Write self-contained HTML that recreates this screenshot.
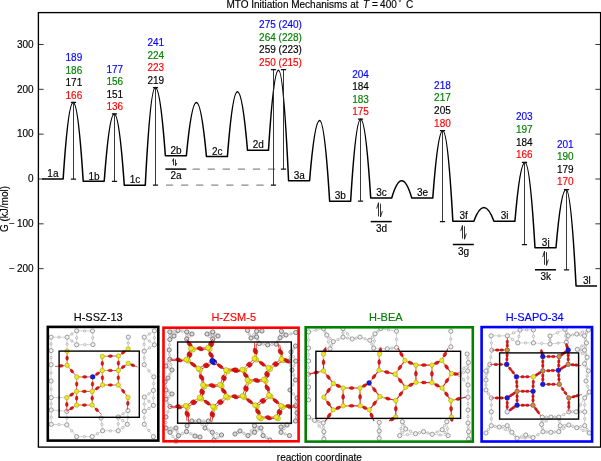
<!DOCTYPE html>
<html><head><meta charset="utf-8"><style>
html,body{margin:0;padding:0;background:#fff;}
svg{display:block;font-family:"Liberation Sans", Arial, sans-serif;font-size:10px;}
text{stroke-width:0.15px;}
</style></head><body>
<svg width="601" height="461" viewBox="0 0 601 461">
<rect width="601" height="461" fill="#fff"/>
<g stroke="#000">
<path d="M42.15,179.00 L63.15,179.00 Q68.17,102.40 73.19,102.40 Q78.20,102.40 83.22,181.30 L83.22,181.30 L104.22,181.30 Q109.24,113.90 114.25,113.90 Q119.27,113.90 124.29,185.20 L124.29,185.20 L145.29,185.20 Q150.31,87.60 155.32,87.60 Q160.34,87.60 165.36,155.80 L165.36,155.80 L186.36,155.80 Q191.38,102.50 196.40,102.50 Q201.41,102.50 206.43,156.40 L206.43,156.40 L227.43,156.40 Q232.45,91.80 237.47,91.80 Q242.48,91.80 247.50,150.20 L247.50,150.20 L268.50,150.20 Q273.52,70.30 278.53,70.30 Q283.55,70.30 288.57,180.70 L288.57,180.70 L309.57,180.70 Q314.59,120.60 319.61,120.60 Q324.62,120.60 329.64,201.20 L329.64,201.20 L350.64,201.20 Q355.66,119.20 360.67,119.20 Q365.69,119.20 370.71,198.00 L370.71,198.00 L391.71,198.00 Q396.73,180.70 401.75,180.70 Q406.76,180.70 411.78,198.10 L411.78,198.10 L432.78,198.10 Q437.80,130.70 442.81,130.70 Q447.83,130.70 452.85,221.20 L452.85,221.20 L473.85,221.20 Q478.87,207.50 483.88,207.50 Q488.90,207.50 493.92,221.20 L493.92,221.20 L514.92,221.20 Q519.94,162.40 524.95,162.40 Q529.97,162.40 534.99,247.70 L534.99,247.70 L555.99,247.70 Q561.01,189.60 566.02,189.60 Q571.04,189.60 576.06,285.90 L576.06,285.90 L597.06,285.90" fill="none" stroke="#000" stroke-width="1.5" stroke-linejoin="round"/>
<line x1="165.36" y1="169.1" x2="186.36" y2="169.1" stroke="#000" stroke-width="1.5"/>
<text x="176.11" y="179.10" text-anchor="middle">2a</text>
<line x1="370.71" y1="221.6" x2="391.71" y2="221.6" stroke="#000" stroke-width="1.5"/>
<text x="381.46" y="231.60" text-anchor="middle">3d</text>
<line x1="452.85" y1="244.5" x2="473.85" y2="244.5" stroke="#000" stroke-width="1.5"/>
<text x="463.60" y="254.50" text-anchor="middle">3g</text>
<line x1="534.99" y1="269.8" x2="555.99" y2="269.8" stroke="#000" stroke-width="1.5"/>
<text x="545.74" y="279.80" text-anchor="middle">3k</text>
<path d="M166.00,185.1H173.20M181.07,185.1H188.27M196.14,185.1H203.34M211.21,185.1H218.41M226.28,185.1H233.48M241.35,185.1H248.55M256.42,185.1H263.62M271.49,185.1H272.00M192.60,169.1H199.80M207.67,169.1H214.87M222.74,169.1H229.94M237.81,169.1H245.01M252.88,169.1H260.08M267.95,169.1H275.15" stroke="#8a8a8a" stroke-width="1.2" fill="none"/>
<text x="52.90" y="177.20" text-anchor="middle">1a</text>
<text x="93.97" y="179.50" text-anchor="middle">1b</text>
<text x="135.04" y="183.40" text-anchor="middle">1c</text>
<text x="176.11" y="154.00" text-anchor="middle">2b</text>
<text x="217.18" y="154.60" text-anchor="middle">2c</text>
<text x="258.25" y="148.40" text-anchor="middle">2d</text>
<text x="299.32" y="178.90" text-anchor="middle">3a</text>
<text x="340.39" y="199.40" text-anchor="middle">3b</text>
<text x="381.46" y="196.20" text-anchor="middle">3c</text>
<text x="422.53" y="196.30" text-anchor="middle">3e</text>
<text x="463.60" y="219.40" text-anchor="middle">3f</text>
<text x="504.67" y="219.40" text-anchor="middle">3i</text>
<text x="545.74" y="245.90" text-anchor="middle">3j</text>
<text x="586.81" y="284.10" text-anchor="middle">3l</text>
<path d="M73.50,102.40V179.00M114.50,113.90V181.30M155.50,87.60V185.20M273.50,69.60V185.10M283.50,69.60V169.10M360.50,119.20V201.20M442.50,130.70V221.60M524.50,162.40V244.50M566.50,189.60V269.80" stroke="#222" stroke-width="0.9" fill="none"/>
<path d="M70.90,102.40H76.10M70.90,179.00H76.10M111.90,113.90H117.10M111.90,181.30H117.10M152.90,87.60H158.10M152.90,185.20H158.10M270.90,69.60H276.10M270.90,185.10H276.10M280.90,69.60H286.10M280.90,169.10H286.10M357.90,119.20H363.10M357.90,201.20H363.10M439.90,130.70H445.10M439.90,221.60H445.10M521.90,162.40H527.10M521.90,244.50H527.10M563.90,189.60H569.10M563.90,269.80H569.10" stroke="#111" stroke-width="1.25" fill="none"/>
<path d="M173.50,165.30V158.60L172.40,161.48M175.50,159.50V165.90L176.60,163.02M378.50,216.40V202.70L376.70,208.59M380.50,203.60V217.00L382.30,211.11M462.50,238.60V225.40L460.70,231.08M464.50,226.30V239.20L466.30,233.52M544.50,264.80V251.20L542.70,257.05M546.50,252.10V265.40L548.30,259.55" stroke="#111" stroke-width="0.85" fill="none"/>
<text x="73.89" y="61.25" text-anchor="middle" fill="#0000ff" stroke="#0000ff">189</text>
<text x="73.89" y="73.80" text-anchor="middle" fill="#008000" stroke="#008000">186</text>
<text x="73.89" y="86.35" text-anchor="middle" fill="#000000" stroke="#000000">171</text>
<text x="73.89" y="98.90" text-anchor="middle" fill="#ff0000" stroke="#ff0000">166</text>
<text x="114.83" y="72.68" text-anchor="middle" fill="#0000ff" stroke="#0000ff">177</text>
<text x="114.83" y="85.23" text-anchor="middle" fill="#008000" stroke="#008000">156</text>
<text x="114.83" y="97.78" text-anchor="middle" fill="#000000" stroke="#000000">151</text>
<text x="114.83" y="110.33" text-anchor="middle" fill="#ff0000" stroke="#ff0000">136</text>
<text x="155.78" y="46.31" text-anchor="middle" fill="#0000ff" stroke="#0000ff">241</text>
<text x="155.78" y="58.86" text-anchor="middle" fill="#008000" stroke="#008000">224</text>
<text x="155.78" y="71.41" text-anchor="middle" fill="#ff0000" stroke="#ff0000">223</text>
<text x="155.78" y="83.96" text-anchor="middle" fill="#000000" stroke="#000000">219</text>
<text x="280.50" y="28.35" text-anchor="middle" fill="#0000ff" stroke="#0000ff">275 (240)</text>
<text x="280.50" y="40.90" text-anchor="middle" fill="#008000" stroke="#008000">264 (228)</text>
<text x="280.50" y="53.45" text-anchor="middle" fill="#000000" stroke="#000000">259 (223)</text>
<text x="280.50" y="66.00" text-anchor="middle" fill="#ff0000" stroke="#ff0000">250 (215)</text>
<text x="360.54" y="77.56" text-anchor="middle" fill="#0000ff" stroke="#0000ff">204</text>
<text x="360.54" y="90.11" text-anchor="middle" fill="#000000" stroke="#000000">184</text>
<text x="360.54" y="102.66" text-anchor="middle" fill="#008000" stroke="#008000">183</text>
<text x="360.54" y="115.21" text-anchor="middle" fill="#ff0000" stroke="#ff0000">175</text>
<text x="442.44" y="88.92" text-anchor="middle" fill="#0000ff" stroke="#0000ff">218</text>
<text x="442.44" y="101.47" text-anchor="middle" fill="#008000" stroke="#008000">217</text>
<text x="442.44" y="114.02" text-anchor="middle" fill="#000000" stroke="#000000">205</text>
<text x="442.44" y="126.57" text-anchor="middle" fill="#ff0000" stroke="#ff0000">180</text>
<text x="524.33" y="120.48" text-anchor="middle" fill="#0000ff" stroke="#0000ff">203</text>
<text x="524.33" y="133.03" text-anchor="middle" fill="#008000" stroke="#008000">197</text>
<text x="524.33" y="145.58" text-anchor="middle" fill="#000000" stroke="#000000">184</text>
<text x="524.33" y="158.13" text-anchor="middle" fill="#ff0000" stroke="#ff0000">166</text>
<text x="565.28" y="147.61" text-anchor="middle" fill="#0000ff" stroke="#0000ff">201</text>
<text x="565.28" y="160.16" text-anchor="middle" fill="#008000" stroke="#008000">190</text>
<text x="565.28" y="172.71" text-anchor="middle" fill="#000000" stroke="#000000">179</text>
<text x="565.28" y="185.26" text-anchor="middle" fill="#ff0000" stroke="#ff0000">170</text>
<path d="M38.40,44.51h5.2M600.60,44.51h-5.2M38.40,89.34h5.2M600.60,89.34h-5.2M38.40,134.17h5.2M600.60,134.17h-5.2M38.40,179.00h5.2M600.60,179.00h-5.2M38.40,223.83h5.2M600.60,223.83h-5.2M38.40,268.66h5.2M600.60,268.66h-5.2" stroke="#111" stroke-width="0.85" fill="none"/>
<text x="33.6" y="47.81" text-anchor="end">300</text>
<text x="33.6" y="92.64" text-anchor="end">200</text>
<text x="33.6" y="137.47" text-anchor="end">100</text>
<text x="33.6" y="182.30" text-anchor="end">0</text>
<text x="33.6" y="227.13" text-anchor="end">− 100</text>
<text x="33.6" y="271.96" text-anchor="end">− 200</text>
<rect x="38.4" y="12.6" width="562.20" height="434.50" fill="none" stroke="#000" stroke-width="1.35"/>
<text x="226.4" y="7.5">MTO Initiation Mechanisms at <tspan x="362.9" font-style="italic">T</tspan><tspan x="372.0">=</tspan><tspan x="380.1">400</tspan><tspan x="398.4" dy="-2.6" font-size="7">°</tspan><tspan x="406.0" dy="2.6">C</tspan></text>
<text x="319.4" y="461.2" text-anchor="middle">reaction coordinate</text>
<text transform="translate(7.9,209) rotate(-90)" text-anchor="middle">G (kJ/mol)</text>
<g>
<path d="M153.4,405.4L144.3,411.3M153.4,390.5L144.3,397.0M127.3,424.3L118.2,430.8M67.1,337.2L76.7,330.8M127.3,424.3L118.2,417.0M128.0,410.6L118.2,417.0M102.6,430.8L92.2,436.6M144.2,337.2L154.4,330.8M154.4,344.8L144.2,351.2M67.1,337.2L76.7,344.8M144.3,397.0L153.4,405.4M51.2,410.0L51.2,397.6M144.2,337.2L154.4,344.8M102.6,430.8L101.0,418.0M144.3,411.3L144.3,424.3M51.1,337.2L51.1,350.6M144.2,351.2L144.2,364.7M66.8,424.9L66.8,411.3M92.5,331.0L92.9,344.6M153.8,376.9L153.4,390.5M128.0,410.6L127.3,424.3M118.2,430.8L118.2,417.0M76.7,330.8L76.7,344.8M144.2,337.2L144.2,351.2M154.4,330.8L154.4,344.8M51.1,350.6L51.1,364.7M144.3,397.0L144.3,411.3M51.2,424.3L51.2,410.0M153.4,390.5L153.4,405.4M76.6,436.6L66.8,424.9M144.3,424.3L153.4,436.7M144.2,364.7L153.8,376.9M118.2,430.8L102.6,430.8M92.2,436.6L76.6,436.6M66.8,424.9L51.2,424.3M51.2,410.0L66.8,411.3M76.7,330.8L92.5,331.0M51.1,337.2L67.1,337.2M76.7,344.8L92.9,344.6M51.1,364.7L51.1,381.0M51.1,381.0L51.2,397.6M67.1,351.2L67.1,337.2M128.2,348.9L128.3,337.1M66.8,397.6L51.2,397.6" stroke="#bdbdbd" stroke-width="0.65" fill="none"/>
<circle cx="148.9" cy="408.4" r="1.2" fill="#f4f4f4" stroke="#a0a0a0" stroke-width="0.6"/>
<circle cx="148.9" cy="393.8" r="1.2" fill="#f4f4f4" stroke="#a0a0a0" stroke-width="0.6"/>
<circle cx="122.8" cy="427.6" r="1.2" fill="#f4f4f4" stroke="#a0a0a0" stroke-width="0.6"/>
<circle cx="71.9" cy="334.0" r="1.2" fill="#f4f4f4" stroke="#a0a0a0" stroke-width="0.6"/>
<circle cx="122.8" cy="420.6" r="1.2" fill="#f4f4f4" stroke="#a0a0a0" stroke-width="0.6"/>
<circle cx="123.1" cy="413.8" r="1.2" fill="#f4f4f4" stroke="#a0a0a0" stroke-width="0.6"/>
<circle cx="97.4" cy="433.7" r="1.2" fill="#f4f4f4" stroke="#a0a0a0" stroke-width="0.6"/>
<circle cx="149.3" cy="334.0" r="1.2" fill="#f4f4f4" stroke="#a0a0a0" stroke-width="0.6"/>
<circle cx="149.3" cy="348.0" r="1.2" fill="#f4f4f4" stroke="#a0a0a0" stroke-width="0.6"/>
<circle cx="71.9" cy="341.0" r="1.2" fill="#f4f4f4" stroke="#a0a0a0" stroke-width="0.6"/>
<circle cx="148.9" cy="401.2" r="1.2" fill="#f4f4f4" stroke="#a0a0a0" stroke-width="0.6"/>
<circle cx="51.2" cy="403.8" r="1.2" fill="#f4f4f4" stroke="#a0a0a0" stroke-width="0.6"/>
<circle cx="149.3" cy="341.0" r="1.2" fill="#f4f4f4" stroke="#a0a0a0" stroke-width="0.6"/>
<circle cx="101.8" cy="424.4" r="1.2" fill="#f4f4f4" stroke="#a0a0a0" stroke-width="0.6"/>
<circle cx="144.3" cy="417.8" r="1.2" fill="#f4f4f4" stroke="#a0a0a0" stroke-width="0.6"/>
<circle cx="51.1" cy="343.9" r="1.2" fill="#f4f4f4" stroke="#a0a0a0" stroke-width="0.6"/>
<circle cx="144.2" cy="357.9" r="1.2" fill="#f4f4f4" stroke="#a0a0a0" stroke-width="0.6"/>
<circle cx="66.8" cy="418.1" r="1.2" fill="#f4f4f4" stroke="#a0a0a0" stroke-width="0.6"/>
<circle cx="92.7" cy="337.8" r="1.2" fill="#f4f4f4" stroke="#a0a0a0" stroke-width="0.6"/>
<circle cx="153.6" cy="383.7" r="1.2" fill="#f4f4f4" stroke="#a0a0a0" stroke-width="0.6"/>
<circle cx="127.7" cy="417.5" r="1.2" fill="#f4f4f4" stroke="#a0a0a0" stroke-width="0.6"/>
<circle cx="118.2" cy="423.9" r="1.2" fill="#f4f4f4" stroke="#a0a0a0" stroke-width="0.6"/>
<circle cx="76.7" cy="337.8" r="1.2" fill="#f4f4f4" stroke="#a0a0a0" stroke-width="0.6"/>
<circle cx="144.2" cy="344.2" r="1.2" fill="#f4f4f4" stroke="#a0a0a0" stroke-width="0.6"/>
<circle cx="154.4" cy="337.8" r="1.2" fill="#f4f4f4" stroke="#a0a0a0" stroke-width="0.6"/>
<circle cx="51.1" cy="357.6" r="1.2" fill="#f4f4f4" stroke="#a0a0a0" stroke-width="0.6"/>
<circle cx="144.3" cy="404.1" r="1.2" fill="#f4f4f4" stroke="#a0a0a0" stroke-width="0.6"/>
<circle cx="51.2" cy="417.1" r="1.2" fill="#f4f4f4" stroke="#a0a0a0" stroke-width="0.6"/>
<circle cx="153.4" cy="397.9" r="1.2" fill="#f4f4f4" stroke="#a0a0a0" stroke-width="0.6"/>
<circle cx="71.7" cy="430.8" r="1.2" fill="#f4f4f4" stroke="#a0a0a0" stroke-width="0.6"/>
<circle cx="148.9" cy="430.5" r="1.2" fill="#f4f4f4" stroke="#a0a0a0" stroke-width="0.6"/>
<circle cx="149.0" cy="370.8" r="1.2" fill="#f4f4f4" stroke="#a0a0a0" stroke-width="0.6"/>
<circle cx="110.4" cy="430.8" r="1.2" fill="#f4f4f4" stroke="#a0a0a0" stroke-width="0.6"/>
<circle cx="84.4" cy="436.6" r="1.2" fill="#f4f4f4" stroke="#a0a0a0" stroke-width="0.6"/>
<circle cx="59.0" cy="424.6" r="1.2" fill="#f4f4f4" stroke="#a0a0a0" stroke-width="0.6"/>
<circle cx="59.0" cy="410.6" r="1.2" fill="#f4f4f4" stroke="#a0a0a0" stroke-width="0.6"/>
<circle cx="84.6" cy="330.9" r="1.2" fill="#f4f4f4" stroke="#a0a0a0" stroke-width="0.6"/>
<circle cx="59.1" cy="337.2" r="1.2" fill="#f4f4f4" stroke="#a0a0a0" stroke-width="0.6"/>
<circle cx="84.8" cy="344.7" r="1.2" fill="#f4f4f4" stroke="#a0a0a0" stroke-width="0.6"/>
<circle cx="51.1" cy="372.9" r="1.2" fill="#f4f4f4" stroke="#a0a0a0" stroke-width="0.6"/>
<circle cx="51.2" cy="389.3" r="1.2" fill="#f4f4f4" stroke="#a0a0a0" stroke-width="0.6"/>
<circle cx="67.1" cy="344.2" r="1.2" fill="#f4f4f4" stroke="#a0a0a0" stroke-width="0.6"/>
<circle cx="128.2" cy="343.0" r="1.2" fill="#f4f4f4" stroke="#a0a0a0" stroke-width="0.6"/>
<circle cx="59.0" cy="397.6" r="1.2" fill="#f4f4f4" stroke="#a0a0a0" stroke-width="0.6"/>
<circle cx="51.1" cy="337.2" r="2.1" fill="#f2f2f2" stroke="#858585" stroke-width="0.8"/>
<circle cx="67.1" cy="337.2" r="2.1" fill="#f2f2f2" stroke="#858585" stroke-width="0.8"/>
<circle cx="76.7" cy="330.8" r="2.1" fill="#f2f2f2" stroke="#858585" stroke-width="0.8"/>
<circle cx="92.5" cy="331.0" r="2.1" fill="#f2f2f2" stroke="#858585" stroke-width="0.8"/>
<circle cx="76.7" cy="344.8" r="2.1" fill="#f2f2f2" stroke="#858585" stroke-width="0.8"/>
<circle cx="92.9" cy="344.6" r="2.1" fill="#f2f2f2" stroke="#858585" stroke-width="0.8"/>
<circle cx="51.1" cy="350.6" r="2.1" fill="#f2f2f2" stroke="#858585" stroke-width="0.8"/>
<circle cx="51.1" cy="364.7" r="2.1" fill="#f2f2f2" stroke="#858585" stroke-width="0.8"/>
<circle cx="51.1" cy="381.0" r="2.1" fill="#f2f2f2" stroke="#858585" stroke-width="0.8"/>
<circle cx="128.3" cy="337.1" r="2.1" fill="#f2f2f2" stroke="#858585" stroke-width="0.8"/>
<circle cx="144.2" cy="337.2" r="2.1" fill="#f2f2f2" stroke="#858585" stroke-width="0.8"/>
<circle cx="154.4" cy="330.8" r="2.1" fill="#f2f2f2" stroke="#858585" stroke-width="0.8"/>
<circle cx="154.4" cy="344.8" r="2.1" fill="#f2f2f2" stroke="#858585" stroke-width="0.8"/>
<circle cx="144.2" cy="351.2" r="2.1" fill="#f2f2f2" stroke="#858585" stroke-width="0.8"/>
<circle cx="144.2" cy="364.7" r="2.1" fill="#f2f2f2" stroke="#858585" stroke-width="0.8"/>
<circle cx="153.8" cy="376.9" r="2.1" fill="#f2f2f2" stroke="#858585" stroke-width="0.8"/>
<circle cx="153.4" cy="390.5" r="2.1" fill="#f2f2f2" stroke="#858585" stroke-width="0.8"/>
<circle cx="144.3" cy="397.0" r="2.1" fill="#f2f2f2" stroke="#858585" stroke-width="0.8"/>
<circle cx="153.4" cy="405.4" r="2.1" fill="#f2f2f2" stroke="#858585" stroke-width="0.8"/>
<circle cx="144.3" cy="411.3" r="2.1" fill="#f2f2f2" stroke="#858585" stroke-width="0.8"/>
<circle cx="128.0" cy="410.6" r="2.1" fill="#f2f2f2" stroke="#858585" stroke-width="0.8"/>
<circle cx="127.3" cy="424.3" r="2.1" fill="#f2f2f2" stroke="#858585" stroke-width="0.8"/>
<circle cx="144.3" cy="424.3" r="2.1" fill="#f2f2f2" stroke="#858585" stroke-width="0.8"/>
<circle cx="153.4" cy="436.7" r="2.1" fill="#f2f2f2" stroke="#858585" stroke-width="0.8"/>
<circle cx="118.2" cy="430.8" r="2.1" fill="#f2f2f2" stroke="#858585" stroke-width="0.8"/>
<circle cx="102.6" cy="430.8" r="2.1" fill="#f2f2f2" stroke="#858585" stroke-width="0.8"/>
<circle cx="92.2" cy="436.6" r="2.1" fill="#f2f2f2" stroke="#858585" stroke-width="0.8"/>
<circle cx="76.6" cy="436.6" r="2.1" fill="#f2f2f2" stroke="#858585" stroke-width="0.8"/>
<circle cx="66.8" cy="424.9" r="2.1" fill="#f2f2f2" stroke="#858585" stroke-width="0.8"/>
<circle cx="51.2" cy="424.3" r="2.1" fill="#f2f2f2" stroke="#858585" stroke-width="0.8"/>
<circle cx="51.2" cy="410.0" r="2.1" fill="#f2f2f2" stroke="#858585" stroke-width="0.8"/>
<circle cx="51.2" cy="397.6" r="2.1" fill="#f2f2f2" stroke="#858585" stroke-width="0.8"/>
<circle cx="66.8" cy="411.3" r="2.1" fill="#f2f2f2" stroke="#858585" stroke-width="0.8"/>
<circle cx="101.0" cy="418.0" r="2.1" fill="#f2f2f2" stroke="#858585" stroke-width="0.8"/>
<circle cx="118.2" cy="417.0" r="2.1" fill="#f2f2f2" stroke="#858585" stroke-width="0.8"/>
<path d="M67.1,351.2L67.1,365.3M67.1,365.3L76.7,376.9M76.7,376.9L92.7,376.9M92.7,376.9L102.3,370.5M102.3,356.4L102.3,370.5M102.3,356.4L118.5,355.9M102.3,370.5L118.3,370.5M118.5,355.9L118.3,370.5M118.5,355.9L128.2,348.9M118.3,370.5L128.2,363.4M102.3,370.5L102.5,385.0M118.3,370.5L118.3,385.0M102.5,385.0L118.3,385.0M92.7,376.9L92.2,391.4M76.7,376.9L76.6,391.4M76.6,391.4L92.2,391.4M76.6,391.4L66.8,397.6M76.6,391.4L76.6,405.1M92.2,391.4L92.2,405.1M76.6,405.1L92.2,405.1M118.3,385.0L128.0,397.4M92.2,391.4L102.5,385.0M128.2,363.4L137.5,367.0M92.2,405.1L101.5,414.5M66.8,397.6L66.8,411.3M128.0,397.4L127.5,409.5M67.1,365.3L55.0,366.5M76.6,405.1L66.8,411.3" stroke="#e02828" stroke-width="0.80" fill="none"/>
<path d="M67.1,351.2L67.1,355.4M67.1,365.3L70.0,368.8M76.7,376.9L81.5,376.9M92.7,376.9L95.6,375.0M102.3,356.4L102.3,360.6M102.3,356.4L107.2,356.2M102.3,370.5L107.1,370.5M118.5,355.9L118.4,360.3M118.5,355.9L121.4,353.8M118.3,370.5L121.3,368.4M102.3,370.5L102.4,374.9M118.3,370.5L118.3,374.9M102.5,385.0L107.2,385.0M92.7,376.9L92.5,381.2M76.7,376.9L76.7,381.2M76.6,391.4L81.3,391.4M76.6,391.4L73.7,393.3M76.6,391.4L76.6,395.5M92.2,391.4L92.2,395.5M76.6,405.1L81.3,405.1M118.3,385.0L121.2,388.7M92.2,391.4L95.3,389.5M128.2,363.4L131.0,364.5M92.2,405.1L95.0,407.9M66.8,397.6L66.8,401.7M128.0,397.4L127.8,401.0M67.1,365.3L63.5,365.7M76.6,405.1L73.7,407.0" stroke="#e4dc30" stroke-width="0.80" fill="none"/>
<ellipse cx="67.1" cy="358.2" rx="2.16" ry="1.35" transform="rotate(90 67.1 358.2)" fill="#e01414" stroke="#a00000" stroke-width="0.4"/>
<ellipse cx="71.9" cy="371.1" rx="2.16" ry="1.35" transform="rotate(50 71.9 371.1)" fill="#e01414" stroke="#a00000" stroke-width="0.4"/>
<ellipse cx="84.7" cy="376.9" rx="2.16" ry="1.35" transform="rotate(0 84.7 376.9)" fill="#e01414" stroke="#a00000" stroke-width="0.4"/>
<ellipse cx="97.5" cy="373.7" rx="2.16" ry="1.35" transform="rotate(-34 97.5 373.7)" fill="#e01414" stroke="#a00000" stroke-width="0.4"/>
<ellipse cx="102.3" cy="363.4" rx="2.16" ry="1.35" transform="rotate(90 102.3 363.4)" fill="#e01414" stroke="#a00000" stroke-width="0.4"/>
<ellipse cx="110.4" cy="356.1" rx="2.16" ry="1.35" transform="rotate(-2 110.4 356.1)" fill="#e01414" stroke="#a00000" stroke-width="0.4"/>
<ellipse cx="110.3" cy="370.5" rx="2.16" ry="1.35" transform="rotate(0 110.3 370.5)" fill="#e01414" stroke="#a00000" stroke-width="0.4"/>
<ellipse cx="118.4" cy="363.2" rx="2.16" ry="1.35" transform="rotate(91 118.4 363.2)" fill="#e01414" stroke="#a00000" stroke-width="0.4"/>
<ellipse cx="123.3" cy="352.4" rx="2.16" ry="1.35" transform="rotate(-36 123.3 352.4)" fill="#e01414" stroke="#a00000" stroke-width="0.4"/>
<ellipse cx="123.2" cy="366.9" rx="2.16" ry="1.35" transform="rotate(-36 123.2 366.9)" fill="#e01414" stroke="#a00000" stroke-width="0.4"/>
<ellipse cx="102.4" cy="377.8" rx="2.16" ry="1.35" transform="rotate(89 102.4 377.8)" fill="#e01414" stroke="#a00000" stroke-width="0.4"/>
<ellipse cx="118.3" cy="377.8" rx="2.16" ry="1.35" transform="rotate(90 118.3 377.8)" fill="#e01414" stroke="#a00000" stroke-width="0.4"/>
<ellipse cx="110.4" cy="385.0" rx="2.16" ry="1.35" transform="rotate(0 110.4 385.0)" fill="#e01414" stroke="#a00000" stroke-width="0.4"/>
<ellipse cx="92.5" cy="384.1" rx="2.16" ry="1.35" transform="rotate(92 92.5 384.1)" fill="#e01414" stroke="#a00000" stroke-width="0.4"/>
<ellipse cx="76.7" cy="384.1" rx="2.16" ry="1.35" transform="rotate(90 76.7 384.1)" fill="#e01414" stroke="#a00000" stroke-width="0.4"/>
<ellipse cx="84.4" cy="391.4" rx="2.16" ry="1.35" transform="rotate(0 84.4 391.4)" fill="#e01414" stroke="#a00000" stroke-width="0.4"/>
<ellipse cx="71.7" cy="394.5" rx="2.16" ry="1.35" transform="rotate(148 71.7 394.5)" fill="#e01414" stroke="#a00000" stroke-width="0.4"/>
<ellipse cx="76.6" cy="398.2" rx="2.16" ry="1.35" transform="rotate(90 76.6 398.2)" fill="#e01414" stroke="#a00000" stroke-width="0.4"/>
<ellipse cx="92.2" cy="398.2" rx="2.16" ry="1.35" transform="rotate(90 92.2 398.2)" fill="#e01414" stroke="#a00000" stroke-width="0.4"/>
<ellipse cx="84.4" cy="405.1" rx="2.16" ry="1.35" transform="rotate(0 84.4 405.1)" fill="#e01414" stroke="#a00000" stroke-width="0.4"/>
<ellipse cx="123.2" cy="391.2" rx="2.16" ry="1.35" transform="rotate(52 123.2 391.2)" fill="#e01414" stroke="#a00000" stroke-width="0.4"/>
<ellipse cx="97.3" cy="388.2" rx="2.16" ry="1.35" transform="rotate(-32 97.3 388.2)" fill="#e01414" stroke="#a00000" stroke-width="0.4"/>
<ellipse cx="132.8" cy="365.2" rx="2.16" ry="1.35" transform="rotate(21 132.8 365.2)" fill="#e01414" stroke="#a00000" stroke-width="0.4"/>
<ellipse cx="96.8" cy="409.8" rx="2.16" ry="1.35" transform="rotate(45 96.8 409.8)" fill="#e01414" stroke="#a00000" stroke-width="0.4"/>
<ellipse cx="66.8" cy="404.5" rx="2.16" ry="1.35" transform="rotate(90 66.8 404.5)" fill="#e01414" stroke="#a00000" stroke-width="0.4"/>
<ellipse cx="127.8" cy="403.4" rx="2.16" ry="1.35" transform="rotate(92 127.8 403.4)" fill="#e01414" stroke="#a00000" stroke-width="0.4"/>
<ellipse cx="61.0" cy="365.9" rx="2.16" ry="1.35" transform="rotate(174 61.0 365.9)" fill="#e01414" stroke="#a00000" stroke-width="0.4"/>
<ellipse cx="71.7" cy="408.2" rx="2.16" ry="1.35" transform="rotate(148 71.7 408.2)" fill="#e01414" stroke="#a00000" stroke-width="0.4"/>
<circle cx="67.1" cy="351.2" r="2.25" fill="#eaea1e" stroke="#8a8a10" stroke-width="0.45"/>
<circle cx="67.1" cy="365.3" r="2.25" fill="#eaea1e" stroke="#8a8a10" stroke-width="0.45"/>
<circle cx="76.7" cy="376.9" r="2.25" fill="#eaea1e" stroke="#8a8a10" stroke-width="0.45"/>
<circle cx="92.7" cy="376.9" r="2.40" fill="#1818e8" stroke="#000070" stroke-width="0.45"/>
<circle cx="102.3" cy="356.4" r="2.25" fill="#eaea1e" stroke="#8a8a10" stroke-width="0.45"/>
<circle cx="102.3" cy="370.5" r="2.25" fill="#eaea1e" stroke="#8a8a10" stroke-width="0.45"/>
<circle cx="118.5" cy="355.9" r="2.25" fill="#eaea1e" stroke="#8a8a10" stroke-width="0.45"/>
<circle cx="118.3" cy="370.5" r="2.25" fill="#eaea1e" stroke="#8a8a10" stroke-width="0.45"/>
<circle cx="128.2" cy="348.9" r="2.25" fill="#eaea1e" stroke="#8a8a10" stroke-width="0.45"/>
<circle cx="128.2" cy="363.4" r="2.25" fill="#eaea1e" stroke="#8a8a10" stroke-width="0.45"/>
<circle cx="102.5" cy="385.0" r="2.25" fill="#eaea1e" stroke="#8a8a10" stroke-width="0.45"/>
<circle cx="118.3" cy="385.0" r="2.25" fill="#eaea1e" stroke="#8a8a10" stroke-width="0.45"/>
<circle cx="76.6" cy="391.4" r="2.25" fill="#eaea1e" stroke="#8a8a10" stroke-width="0.45"/>
<circle cx="92.2" cy="391.4" r="2.25" fill="#eaea1e" stroke="#8a8a10" stroke-width="0.45"/>
<circle cx="66.8" cy="397.6" r="2.25" fill="#eaea1e" stroke="#8a8a10" stroke-width="0.45"/>
<circle cx="76.6" cy="405.1" r="2.25" fill="#eaea1e" stroke="#8a8a10" stroke-width="0.45"/>
<circle cx="92.2" cy="405.1" r="2.25" fill="#eaea1e" stroke="#8a8a10" stroke-width="0.45"/>
<circle cx="128.0" cy="397.4" r="2.25" fill="#eaea1e" stroke="#8a8a10" stroke-width="0.45"/>
</g>
<rect x="59.10" y="351.10" width="80.20" height="66.20" fill="none" stroke="#000" stroke-width="1.4"/>
<rect x="47.80" y="326.90" width="110.50" height="113.70" fill="none" stroke="#000" stroke-width="2.6"/>
<text x="98.2" y="321" text-anchor="middle" font-size="11" fill="#000" stroke="#000">H-SSZ-13</text>
<g>
<path d="M168.0,378.0L165.0,382.0M200.0,437.0L195.0,436.0M281.0,432.3L281.0,427.0M256.6,331.2L262.0,331.0M169.8,339.5L174.0,336.0M256.6,337.0L251.0,338.0M186.7,331.9L192.0,334.0M256.6,331.2L256.6,337.0M235.0,434.0L240.0,431.0M169.8,331.9L174.0,336.0M170.0,432.3L166.0,428.0M186.5,431.6L187.1,425.7M178.5,435.6L176.0,441.0M281.4,331.2L286.0,335.0M212.7,331.9L207.0,334.0M212.7,339.0L218.0,336.0M281.0,427.0L287.0,425.0M280.1,337.7L286.0,335.0M289.2,361.1L295.7,361.1M254.5,432.3L254.5,425.7M281.4,331.2L280.1,337.7M187.1,425.7L191.8,421.0M212.7,331.9L218.0,336.0M178.0,330.5L174.0,336.0M254.5,425.7L261.0,428.0M256.6,337.0L259.2,343.6M186.7,331.9L186.7,339.0M212.7,331.9L212.7,339.0M191.8,421.0L199.0,421.0M166.0,390.0L172.0,394.0M186.7,339.0L192.0,334.0M165.9,366.0L172.0,370.0M295.5,405.8L297.0,413.0M247.9,435.6L254.5,432.3M170.0,432.3L176.0,428.0M295.5,346.0L291.0,352.0M276.2,344.2L280.1,337.7M212.7,339.0L207.0,334.0M169.8,331.9L169.8,339.5M208.3,421.0L205.0,428.0M254.5,432.3L261.0,428.0M169.8,359.2L165.9,366.0M263.1,435.6L261.0,428.0M212.3,432.3L214.0,440.0M166.0,399.2L172.0,394.0M295.5,405.8L297.0,398.0M178.5,435.6L176.0,428.0M166.0,390.0L165.0,382.0M295.5,421.0L297.0,413.0M263.1,435.6L270.0,440.0M247.5,330.5L251.0,338.0M169.8,331.9L178.0,330.5M166.0,399.2L170.0,406.5M212.3,432.3L205.0,428.0M267.7,344.9L276.2,344.2M259.2,343.6L267.7,344.9M256.6,331.2L251.0,338.0M178.0,330.5L186.7,331.9M168.0,378.0L172.0,370.0M178.5,435.6L186.5,431.6M221.5,435.0L214.0,440.0M281.0,432.3L289.5,435.6M247.9,435.6L240.0,431.0M166.0,390.0L166.0,399.2M169.2,350.0L169.8,359.2M199.0,421.0L205.0,428.0M289.2,361.1L291.0,352.0M199.0,421.0L208.3,421.0M289.2,361.1L292.0,370.0M295.5,421.0L287.0,425.0M281.0,432.3L287.0,425.0M186.5,431.6L195.0,436.0M212.3,432.3L221.5,435.0M295.7,361.1L292.0,370.0M176.0,428.0L166.0,428.0M295.7,332.5L286.0,335.0M295.7,361.1L291.0,352.0M169.8,339.5L169.2,350.0M170.0,432.3L176.0,441.0M295.5,380.0L292.0,370.0M290.0,390.0L297.0,398.0M166.0,417.0L166.0,428.0M169.8,359.2L172.0,370.0M207.0,334.0L218.0,336.0M170.0,406.5L166.0,417.0M295.5,380.0L290.0,390.0M247.9,435.6L254.5,425.7" stroke="#bdbdbd" stroke-width="0.65" fill="none"/>
<circle cx="166.5" cy="380.0" r="1.2" fill="#f4f4f4" stroke="#a0a0a0" stroke-width="0.6"/>
<circle cx="197.5" cy="436.5" r="1.2" fill="#f4f4f4" stroke="#a0a0a0" stroke-width="0.6"/>
<circle cx="281.0" cy="429.6" r="1.2" fill="#f4f4f4" stroke="#a0a0a0" stroke-width="0.6"/>
<circle cx="259.3" cy="331.1" r="1.2" fill="#f4f4f4" stroke="#a0a0a0" stroke-width="0.6"/>
<circle cx="171.9" cy="337.8" r="1.2" fill="#f4f4f4" stroke="#a0a0a0" stroke-width="0.6"/>
<circle cx="253.8" cy="337.5" r="1.2" fill="#f4f4f4" stroke="#a0a0a0" stroke-width="0.6"/>
<circle cx="189.3" cy="332.9" r="1.2" fill="#f4f4f4" stroke="#a0a0a0" stroke-width="0.6"/>
<circle cx="256.6" cy="334.1" r="1.2" fill="#f4f4f4" stroke="#a0a0a0" stroke-width="0.6"/>
<circle cx="237.5" cy="432.5" r="1.2" fill="#f4f4f4" stroke="#a0a0a0" stroke-width="0.6"/>
<circle cx="171.9" cy="333.9" r="1.2" fill="#f4f4f4" stroke="#a0a0a0" stroke-width="0.6"/>
<circle cx="168.0" cy="430.1" r="1.2" fill="#f4f4f4" stroke="#a0a0a0" stroke-width="0.6"/>
<circle cx="186.8" cy="428.6" r="1.2" fill="#f4f4f4" stroke="#a0a0a0" stroke-width="0.6"/>
<circle cx="177.2" cy="438.3" r="1.2" fill="#f4f4f4" stroke="#a0a0a0" stroke-width="0.6"/>
<circle cx="283.7" cy="333.1" r="1.2" fill="#f4f4f4" stroke="#a0a0a0" stroke-width="0.6"/>
<circle cx="209.8" cy="332.9" r="1.2" fill="#f4f4f4" stroke="#a0a0a0" stroke-width="0.6"/>
<circle cx="215.3" cy="337.5" r="1.2" fill="#f4f4f4" stroke="#a0a0a0" stroke-width="0.6"/>
<circle cx="284.0" cy="426.0" r="1.2" fill="#f4f4f4" stroke="#a0a0a0" stroke-width="0.6"/>
<circle cx="283.1" cy="336.4" r="1.2" fill="#f4f4f4" stroke="#a0a0a0" stroke-width="0.6"/>
<circle cx="292.4" cy="361.1" r="1.2" fill="#f4f4f4" stroke="#a0a0a0" stroke-width="0.6"/>
<circle cx="254.5" cy="429.0" r="1.2" fill="#f4f4f4" stroke="#a0a0a0" stroke-width="0.6"/>
<circle cx="280.8" cy="334.4" r="1.2" fill="#f4f4f4" stroke="#a0a0a0" stroke-width="0.6"/>
<circle cx="189.4" cy="423.4" r="1.2" fill="#f4f4f4" stroke="#a0a0a0" stroke-width="0.6"/>
<circle cx="215.3" cy="333.9" r="1.2" fill="#f4f4f4" stroke="#a0a0a0" stroke-width="0.6"/>
<circle cx="176.0" cy="333.2" r="1.2" fill="#f4f4f4" stroke="#a0a0a0" stroke-width="0.6"/>
<circle cx="257.8" cy="426.9" r="1.2" fill="#f4f4f4" stroke="#a0a0a0" stroke-width="0.6"/>
<circle cx="257.9" cy="340.3" r="1.2" fill="#f4f4f4" stroke="#a0a0a0" stroke-width="0.6"/>
<circle cx="186.7" cy="335.4" r="1.2" fill="#f4f4f4" stroke="#a0a0a0" stroke-width="0.6"/>
<circle cx="212.7" cy="335.4" r="1.2" fill="#f4f4f4" stroke="#a0a0a0" stroke-width="0.6"/>
<circle cx="195.4" cy="421.0" r="1.2" fill="#f4f4f4" stroke="#a0a0a0" stroke-width="0.6"/>
<circle cx="169.0" cy="392.0" r="1.2" fill="#f4f4f4" stroke="#a0a0a0" stroke-width="0.6"/>
<circle cx="189.3" cy="336.5" r="1.2" fill="#f4f4f4" stroke="#a0a0a0" stroke-width="0.6"/>
<circle cx="168.9" cy="368.0" r="1.2" fill="#f4f4f4" stroke="#a0a0a0" stroke-width="0.6"/>
<circle cx="296.2" cy="409.4" r="1.2" fill="#f4f4f4" stroke="#a0a0a0" stroke-width="0.6"/>
<circle cx="251.2" cy="434.0" r="1.2" fill="#f4f4f4" stroke="#a0a0a0" stroke-width="0.6"/>
<circle cx="173.0" cy="430.1" r="1.2" fill="#f4f4f4" stroke="#a0a0a0" stroke-width="0.6"/>
<circle cx="293.2" cy="349.0" r="1.2" fill="#f4f4f4" stroke="#a0a0a0" stroke-width="0.6"/>
<circle cx="278.1" cy="340.9" r="1.2" fill="#f4f4f4" stroke="#a0a0a0" stroke-width="0.6"/>
<circle cx="209.8" cy="336.5" r="1.2" fill="#f4f4f4" stroke="#a0a0a0" stroke-width="0.6"/>
<circle cx="169.8" cy="335.7" r="1.2" fill="#f4f4f4" stroke="#a0a0a0" stroke-width="0.6"/>
<circle cx="206.7" cy="424.5" r="1.2" fill="#f4f4f4" stroke="#a0a0a0" stroke-width="0.6"/>
<circle cx="257.8" cy="430.1" r="1.2" fill="#f4f4f4" stroke="#a0a0a0" stroke-width="0.6"/>
<circle cx="167.9" cy="362.6" r="1.2" fill="#f4f4f4" stroke="#a0a0a0" stroke-width="0.6"/>
<circle cx="262.1" cy="431.8" r="1.2" fill="#f4f4f4" stroke="#a0a0a0" stroke-width="0.6"/>
<circle cx="213.2" cy="436.1" r="1.2" fill="#f4f4f4" stroke="#a0a0a0" stroke-width="0.6"/>
<circle cx="169.0" cy="396.6" r="1.2" fill="#f4f4f4" stroke="#a0a0a0" stroke-width="0.6"/>
<circle cx="296.2" cy="401.9" r="1.2" fill="#f4f4f4" stroke="#a0a0a0" stroke-width="0.6"/>
<circle cx="177.2" cy="431.8" r="1.2" fill="#f4f4f4" stroke="#a0a0a0" stroke-width="0.6"/>
<circle cx="165.5" cy="386.0" r="1.2" fill="#f4f4f4" stroke="#a0a0a0" stroke-width="0.6"/>
<circle cx="296.2" cy="417.0" r="1.2" fill="#f4f4f4" stroke="#a0a0a0" stroke-width="0.6"/>
<circle cx="266.6" cy="437.8" r="1.2" fill="#f4f4f4" stroke="#a0a0a0" stroke-width="0.6"/>
<circle cx="249.2" cy="334.2" r="1.2" fill="#f4f4f4" stroke="#a0a0a0" stroke-width="0.6"/>
<circle cx="173.9" cy="331.2" r="1.2" fill="#f4f4f4" stroke="#a0a0a0" stroke-width="0.6"/>
<circle cx="168.0" cy="402.9" r="1.2" fill="#f4f4f4" stroke="#a0a0a0" stroke-width="0.6"/>
<circle cx="208.7" cy="430.1" r="1.2" fill="#f4f4f4" stroke="#a0a0a0" stroke-width="0.6"/>
<circle cx="271.9" cy="344.5" r="1.2" fill="#f4f4f4" stroke="#a0a0a0" stroke-width="0.6"/>
<circle cx="263.4" cy="344.2" r="1.2" fill="#f4f4f4" stroke="#a0a0a0" stroke-width="0.6"/>
<circle cx="253.8" cy="334.6" r="1.2" fill="#f4f4f4" stroke="#a0a0a0" stroke-width="0.6"/>
<circle cx="182.3" cy="331.2" r="1.2" fill="#f4f4f4" stroke="#a0a0a0" stroke-width="0.6"/>
<circle cx="170.0" cy="374.0" r="1.2" fill="#f4f4f4" stroke="#a0a0a0" stroke-width="0.6"/>
<circle cx="182.5" cy="433.6" r="1.2" fill="#f4f4f4" stroke="#a0a0a0" stroke-width="0.6"/>
<circle cx="217.8" cy="437.5" r="1.2" fill="#f4f4f4" stroke="#a0a0a0" stroke-width="0.6"/>
<circle cx="285.2" cy="434.0" r="1.2" fill="#f4f4f4" stroke="#a0a0a0" stroke-width="0.6"/>
<circle cx="243.9" cy="433.3" r="1.2" fill="#f4f4f4" stroke="#a0a0a0" stroke-width="0.6"/>
<circle cx="166.0" cy="394.6" r="1.2" fill="#f4f4f4" stroke="#a0a0a0" stroke-width="0.6"/>
<circle cx="169.5" cy="354.6" r="1.2" fill="#f4f4f4" stroke="#a0a0a0" stroke-width="0.6"/>
<circle cx="202.0" cy="424.5" r="1.2" fill="#f4f4f4" stroke="#a0a0a0" stroke-width="0.6"/>
<circle cx="290.1" cy="356.6" r="1.2" fill="#f4f4f4" stroke="#a0a0a0" stroke-width="0.6"/>
<circle cx="203.7" cy="421.0" r="1.2" fill="#f4f4f4" stroke="#a0a0a0" stroke-width="0.6"/>
<circle cx="290.6" cy="365.6" r="1.2" fill="#f4f4f4" stroke="#a0a0a0" stroke-width="0.6"/>
<circle cx="291.2" cy="423.0" r="1.2" fill="#f4f4f4" stroke="#a0a0a0" stroke-width="0.6"/>
<circle cx="284.0" cy="428.6" r="1.2" fill="#f4f4f4" stroke="#a0a0a0" stroke-width="0.6"/>
<circle cx="190.8" cy="433.8" r="1.2" fill="#f4f4f4" stroke="#a0a0a0" stroke-width="0.6"/>
<circle cx="216.9" cy="433.6" r="1.2" fill="#f4f4f4" stroke="#a0a0a0" stroke-width="0.6"/>
<circle cx="293.9" cy="365.6" r="1.2" fill="#f4f4f4" stroke="#a0a0a0" stroke-width="0.6"/>
<circle cx="171.0" cy="428.0" r="1.2" fill="#f4f4f4" stroke="#a0a0a0" stroke-width="0.6"/>
<circle cx="290.9" cy="333.8" r="1.2" fill="#f4f4f4" stroke="#a0a0a0" stroke-width="0.6"/>
<circle cx="293.4" cy="356.6" r="1.2" fill="#f4f4f4" stroke="#a0a0a0" stroke-width="0.6"/>
<circle cx="169.5" cy="344.8" r="1.2" fill="#f4f4f4" stroke="#a0a0a0" stroke-width="0.6"/>
<circle cx="173.0" cy="436.6" r="1.2" fill="#f4f4f4" stroke="#a0a0a0" stroke-width="0.6"/>
<circle cx="293.8" cy="375.0" r="1.2" fill="#f4f4f4" stroke="#a0a0a0" stroke-width="0.6"/>
<circle cx="293.5" cy="394.0" r="1.2" fill="#f4f4f4" stroke="#a0a0a0" stroke-width="0.6"/>
<circle cx="166.0" cy="422.5" r="1.2" fill="#f4f4f4" stroke="#a0a0a0" stroke-width="0.6"/>
<circle cx="170.9" cy="364.6" r="1.2" fill="#f4f4f4" stroke="#a0a0a0" stroke-width="0.6"/>
<circle cx="212.5" cy="335.0" r="1.2" fill="#f4f4f4" stroke="#a0a0a0" stroke-width="0.6"/>
<circle cx="168.0" cy="411.8" r="1.2" fill="#f4f4f4" stroke="#a0a0a0" stroke-width="0.6"/>
<circle cx="292.8" cy="385.0" r="1.2" fill="#f4f4f4" stroke="#a0a0a0" stroke-width="0.6"/>
<circle cx="251.2" cy="430.6" r="1.2" fill="#f4f4f4" stroke="#a0a0a0" stroke-width="0.6"/>
<circle cx="169.8" cy="331.9" r="2.1" fill="#dcdcdc" stroke="#707070" stroke-width="0.9"/>
<circle cx="169.8" cy="339.5" r="2.1" fill="#dcdcdc" stroke="#707070" stroke-width="0.9"/>
<circle cx="178.0" cy="330.5" r="2.1" fill="#dcdcdc" stroke="#707070" stroke-width="0.9"/>
<circle cx="186.7" cy="331.9" r="2.1" fill="#dcdcdc" stroke="#707070" stroke-width="0.9"/>
<circle cx="186.7" cy="339.0" r="2.1" fill="#dcdcdc" stroke="#707070" stroke-width="0.9"/>
<circle cx="212.7" cy="331.9" r="2.1" fill="#dcdcdc" stroke="#707070" stroke-width="0.9"/>
<circle cx="212.7" cy="339.0" r="2.1" fill="#dcdcdc" stroke="#707070" stroke-width="0.9"/>
<circle cx="247.5" cy="330.5" r="2.1" fill="#dcdcdc" stroke="#707070" stroke-width="0.9"/>
<circle cx="256.6" cy="331.2" r="2.1" fill="#dcdcdc" stroke="#707070" stroke-width="0.9"/>
<circle cx="256.6" cy="337.0" r="2.1" fill="#dcdcdc" stroke="#707070" stroke-width="0.9"/>
<circle cx="259.2" cy="343.6" r="2.1" fill="#dcdcdc" stroke="#707070" stroke-width="0.9"/>
<circle cx="267.7" cy="344.9" r="2.1" fill="#dcdcdc" stroke="#707070" stroke-width="0.9"/>
<circle cx="276.2" cy="344.2" r="2.1" fill="#dcdcdc" stroke="#707070" stroke-width="0.9"/>
<circle cx="281.4" cy="331.2" r="2.1" fill="#dcdcdc" stroke="#707070" stroke-width="0.9"/>
<circle cx="280.1" cy="337.7" r="2.1" fill="#dcdcdc" stroke="#707070" stroke-width="0.9"/>
<circle cx="295.7" cy="332.5" r="2.1" fill="#dcdcdc" stroke="#707070" stroke-width="0.9"/>
<circle cx="169.2" cy="350.0" r="2.1" fill="#dcdcdc" stroke="#707070" stroke-width="0.9"/>
<circle cx="169.8" cy="359.2" r="2.1" fill="#dcdcdc" stroke="#707070" stroke-width="0.9"/>
<circle cx="165.9" cy="366.0" r="2.1" fill="#dcdcdc" stroke="#707070" stroke-width="0.9"/>
<circle cx="168.0" cy="378.0" r="2.1" fill="#dcdcdc" stroke="#707070" stroke-width="0.9"/>
<circle cx="166.0" cy="390.0" r="2.1" fill="#dcdcdc" stroke="#707070" stroke-width="0.9"/>
<circle cx="166.0" cy="399.2" r="2.1" fill="#dcdcdc" stroke="#707070" stroke-width="0.9"/>
<circle cx="170.0" cy="406.5" r="2.1" fill="#dcdcdc" stroke="#707070" stroke-width="0.9"/>
<circle cx="166.0" cy="417.0" r="2.1" fill="#dcdcdc" stroke="#707070" stroke-width="0.9"/>
<circle cx="170.0" cy="432.3" r="2.1" fill="#dcdcdc" stroke="#707070" stroke-width="0.9"/>
<circle cx="178.5" cy="435.6" r="2.1" fill="#dcdcdc" stroke="#707070" stroke-width="0.9"/>
<circle cx="186.5" cy="431.6" r="2.1" fill="#dcdcdc" stroke="#707070" stroke-width="0.9"/>
<circle cx="187.1" cy="425.7" r="2.1" fill="#dcdcdc" stroke="#707070" stroke-width="0.9"/>
<circle cx="191.8" cy="421.0" r="2.1" fill="#dcdcdc" stroke="#707070" stroke-width="0.9"/>
<circle cx="199.0" cy="421.0" r="2.1" fill="#dcdcdc" stroke="#707070" stroke-width="0.9"/>
<circle cx="208.3" cy="421.0" r="2.1" fill="#dcdcdc" stroke="#707070" stroke-width="0.9"/>
<circle cx="212.3" cy="432.3" r="2.1" fill="#dcdcdc" stroke="#707070" stroke-width="0.9"/>
<circle cx="221.5" cy="435.0" r="2.1" fill="#dcdcdc" stroke="#707070" stroke-width="0.9"/>
<circle cx="235.0" cy="434.0" r="2.1" fill="#dcdcdc" stroke="#707070" stroke-width="0.9"/>
<circle cx="247.9" cy="435.6" r="2.1" fill="#dcdcdc" stroke="#707070" stroke-width="0.9"/>
<circle cx="254.5" cy="432.3" r="2.1" fill="#dcdcdc" stroke="#707070" stroke-width="0.9"/>
<circle cx="254.5" cy="425.7" r="2.1" fill="#dcdcdc" stroke="#707070" stroke-width="0.9"/>
<circle cx="263.1" cy="435.6" r="2.1" fill="#dcdcdc" stroke="#707070" stroke-width="0.9"/>
<circle cx="281.0" cy="432.3" r="2.1" fill="#dcdcdc" stroke="#707070" stroke-width="0.9"/>
<circle cx="281.0" cy="427.0" r="2.1" fill="#dcdcdc" stroke="#707070" stroke-width="0.9"/>
<circle cx="289.5" cy="435.6" r="2.1" fill="#dcdcdc" stroke="#707070" stroke-width="0.9"/>
<circle cx="289.2" cy="361.1" r="2.1" fill="#dcdcdc" stroke="#707070" stroke-width="0.9"/>
<circle cx="295.7" cy="361.1" r="2.1" fill="#dcdcdc" stroke="#707070" stroke-width="0.9"/>
<circle cx="295.5" cy="405.8" r="2.1" fill="#dcdcdc" stroke="#707070" stroke-width="0.9"/>
<circle cx="295.5" cy="380.0" r="2.1" fill="#dcdcdc" stroke="#707070" stroke-width="0.9"/>
<circle cx="295.5" cy="346.0" r="2.1" fill="#dcdcdc" stroke="#707070" stroke-width="0.9"/>
<circle cx="295.5" cy="421.0" r="2.1" fill="#dcdcdc" stroke="#707070" stroke-width="0.9"/>
<circle cx="200.0" cy="437.0" r="2.1" fill="#dcdcdc" stroke="#707070" stroke-width="0.9"/>
<circle cx="176.0" cy="428.0" r="2.1" fill="#dcdcdc" stroke="#707070" stroke-width="0.9"/>
<circle cx="195.0" cy="436.0" r="2.1" fill="#dcdcdc" stroke="#707070" stroke-width="0.9"/>
<circle cx="205.0" cy="428.0" r="2.1" fill="#dcdcdc" stroke="#707070" stroke-width="0.9"/>
<circle cx="214.0" cy="440.0" r="2.1" fill="#dcdcdc" stroke="#707070" stroke-width="0.9"/>
<circle cx="240.0" cy="431.0" r="2.1" fill="#dcdcdc" stroke="#707070" stroke-width="0.9"/>
<circle cx="261.0" cy="428.0" r="2.1" fill="#dcdcdc" stroke="#707070" stroke-width="0.9"/>
<circle cx="270.0" cy="440.0" r="2.1" fill="#dcdcdc" stroke="#707070" stroke-width="0.9"/>
<circle cx="287.0" cy="425.0" r="2.1" fill="#dcdcdc" stroke="#707070" stroke-width="0.9"/>
<circle cx="166.0" cy="428.0" r="2.1" fill="#dcdcdc" stroke="#707070" stroke-width="0.9"/>
<circle cx="176.0" cy="441.0" r="2.1" fill="#dcdcdc" stroke="#707070" stroke-width="0.9"/>
<circle cx="174.0" cy="336.0" r="2.1" fill="#dcdcdc" stroke="#707070" stroke-width="0.9"/>
<circle cx="192.0" cy="334.0" r="2.1" fill="#dcdcdc" stroke="#707070" stroke-width="0.9"/>
<circle cx="207.0" cy="334.0" r="2.1" fill="#dcdcdc" stroke="#707070" stroke-width="0.9"/>
<circle cx="218.0" cy="336.0" r="2.1" fill="#dcdcdc" stroke="#707070" stroke-width="0.9"/>
<circle cx="251.0" cy="338.0" r="2.1" fill="#dcdcdc" stroke="#707070" stroke-width="0.9"/>
<circle cx="262.0" cy="331.0" r="2.1" fill="#dcdcdc" stroke="#707070" stroke-width="0.9"/>
<circle cx="286.0" cy="335.0" r="2.1" fill="#dcdcdc" stroke="#707070" stroke-width="0.9"/>
<circle cx="172.0" cy="370.0" r="2.1" fill="#dcdcdc" stroke="#707070" stroke-width="0.9"/>
<circle cx="165.0" cy="382.0" r="2.1" fill="#dcdcdc" stroke="#707070" stroke-width="0.9"/>
<circle cx="172.0" cy="394.0" r="2.1" fill="#dcdcdc" stroke="#707070" stroke-width="0.9"/>
<circle cx="291.0" cy="352.0" r="2.1" fill="#dcdcdc" stroke="#707070" stroke-width="0.9"/>
<circle cx="292.0" cy="370.0" r="2.1" fill="#dcdcdc" stroke="#707070" stroke-width="0.9"/>
<circle cx="290.0" cy="390.0" r="2.1" fill="#dcdcdc" stroke="#707070" stroke-width="0.9"/>
<circle cx="297.0" cy="398.0" r="2.1" fill="#dcdcdc" stroke="#707070" stroke-width="0.9"/>
<circle cx="297.0" cy="413.0" r="2.1" fill="#dcdcdc" stroke="#707070" stroke-width="0.9"/>
<path d="M192.7,349.7L209.7,349.1M192.7,349.7L188.1,360.8M209.7,349.1L214.1,362.3M188.1,360.8L200.1,369.8M214.1,362.3L200.1,369.8M214.1,362.3L227.7,371.3M227.7,371.3L244.2,370.8M244.2,370.8L256.2,359.8M256.2,359.8L270.1,369.0M270.1,369.0L283.1,360.5M200.1,369.8L204.7,386.3M204.7,386.3L221.7,386.1M227.7,371.3L221.7,386.1M244.2,370.8L249.2,381.3M249.2,381.3L265.7,380.9M270.1,369.0L265.7,380.9M204.7,386.3L201.4,398.8M221.7,386.1L227.7,397.6M249.2,381.3L244.3,397.2M265.7,380.9L270.7,396.5M201.4,398.8L187.5,407.1M201.4,398.8L214.7,407.8M227.7,397.6L214.7,407.8M227.7,397.6L244.3,397.2M244.3,397.2L256.8,406.5M270.7,396.5L256.8,406.5M270.7,396.5L282.7,407.1M256.8,406.5L260.8,418.4M282.7,407.1L278.0,418.4M260.8,418.4L278.0,418.4M256.2,359.8L256.3,343.8M283.1,360.5L279.7,344.8M283.1,360.5L291.7,362.3M187.5,407.1L188.7,422.3M214.7,407.8L211.7,422.3M187.5,407.1L171.7,407.8M188.1,360.8L171.5,360.5M282.7,407.1L297.2,407.1M192.7,349.7L188.4,340.3M209.7,349.1L214.4,340.3M244.2,370.8L230.2,370.3" stroke="#e02828" stroke-width="0.90" fill="none"/>
<path d="M192.7,349.7L197.8,349.5M192.7,349.7L191.3,353.0M209.7,349.1L211.0,353.1M188.1,360.8L191.7,363.5M214.1,362.3L209.9,364.6M214.1,362.3L218.2,365.0M227.7,371.3L232.6,371.2M244.2,370.8L247.8,367.5M256.2,359.8L260.4,362.6M270.1,369.0L274.0,366.4M200.1,369.8L201.5,374.8M204.7,386.3L209.8,386.2M227.7,371.3L225.9,375.7M244.2,370.8L245.7,373.9M249.2,381.3L254.1,381.2M270.1,369.0L268.8,372.6M204.7,386.3L203.7,390.1M221.7,386.1L223.5,389.6M249.2,381.3L247.7,386.1M265.7,380.9L267.2,385.6M201.4,398.8L197.2,401.3M201.4,398.8L205.4,401.5M227.7,397.6L223.8,400.7M227.7,397.6L232.7,397.5M244.3,397.2L248.0,400.0M270.7,396.5L266.5,399.5M270.7,396.5L274.3,399.7M256.8,406.5L258.0,410.1M282.7,407.1L281.3,410.5M260.8,418.4L266.0,418.4M256.2,359.8L256.2,355.0M283.1,360.5L282.1,355.8M283.1,360.5L285.7,361.0M187.5,407.1L187.9,411.7M214.7,407.8L213.8,412.2M187.5,407.1L182.8,407.3M188.1,360.8L183.1,360.7M282.7,407.1L287.1,407.1M192.7,349.7L191.4,346.9M209.7,349.1L211.1,346.5M244.2,370.8L240.0,370.7" stroke="#e4dc30" stroke-width="0.90" fill="none"/>
<ellipse cx="201.2" cy="349.4" rx="2.42" ry="1.51" transform="rotate(-2 201.2 349.4)" fill="#e01414" stroke="#a00000" stroke-width="0.4"/>
<ellipse cx="190.4" cy="355.2" rx="2.42" ry="1.51" transform="rotate(113 190.4 355.2)" fill="#e01414" stroke="#a00000" stroke-width="0.4"/>
<ellipse cx="211.9" cy="355.7" rx="2.42" ry="1.51" transform="rotate(72 211.9 355.7)" fill="#e01414" stroke="#a00000" stroke-width="0.4"/>
<ellipse cx="194.1" cy="365.3" rx="2.42" ry="1.51" transform="rotate(37 194.1 365.3)" fill="#e01414" stroke="#a00000" stroke-width="0.4"/>
<ellipse cx="207.1" cy="366.1" rx="2.42" ry="1.51" transform="rotate(152 207.1 366.1)" fill="#e01414" stroke="#a00000" stroke-width="0.4"/>
<ellipse cx="220.9" cy="366.8" rx="2.42" ry="1.51" transform="rotate(33 220.9 366.8)" fill="#e01414" stroke="#a00000" stroke-width="0.4"/>
<ellipse cx="235.9" cy="371.1" rx="2.42" ry="1.51" transform="rotate(-2 235.9 371.1)" fill="#e01414" stroke="#a00000" stroke-width="0.4"/>
<ellipse cx="250.2" cy="365.3" rx="2.42" ry="1.51" transform="rotate(-43 250.2 365.3)" fill="#e01414" stroke="#a00000" stroke-width="0.4"/>
<ellipse cx="263.1" cy="364.4" rx="2.42" ry="1.51" transform="rotate(33 263.1 364.4)" fill="#e01414" stroke="#a00000" stroke-width="0.4"/>
<ellipse cx="276.6" cy="364.8" rx="2.42" ry="1.51" transform="rotate(-33 276.6 364.8)" fill="#e01414" stroke="#a00000" stroke-width="0.4"/>
<ellipse cx="202.4" cy="378.1" rx="2.42" ry="1.51" transform="rotate(74 202.4 378.1)" fill="#e01414" stroke="#a00000" stroke-width="0.4"/>
<ellipse cx="213.2" cy="386.2" rx="2.42" ry="1.51" transform="rotate(-1 213.2 386.2)" fill="#e01414" stroke="#a00000" stroke-width="0.4"/>
<ellipse cx="224.7" cy="378.7" rx="2.42" ry="1.51" transform="rotate(112 224.7 378.7)" fill="#e01414" stroke="#a00000" stroke-width="0.4"/>
<ellipse cx="246.7" cy="376.1" rx="2.42" ry="1.51" transform="rotate(65 246.7 376.1)" fill="#e01414" stroke="#a00000" stroke-width="0.4"/>
<ellipse cx="257.4" cy="381.1" rx="2.42" ry="1.51" transform="rotate(-1 257.4 381.1)" fill="#e01414" stroke="#a00000" stroke-width="0.4"/>
<ellipse cx="267.9" cy="375.0" rx="2.42" ry="1.51" transform="rotate(110 267.9 375.0)" fill="#e01414" stroke="#a00000" stroke-width="0.4"/>
<ellipse cx="203.0" cy="392.6" rx="2.42" ry="1.51" transform="rotate(105 203.0 392.6)" fill="#e01414" stroke="#a00000" stroke-width="0.4"/>
<ellipse cx="224.7" cy="391.9" rx="2.42" ry="1.51" transform="rotate(62 224.7 391.9)" fill="#e01414" stroke="#a00000" stroke-width="0.4"/>
<ellipse cx="246.8" cy="389.2" rx="2.42" ry="1.51" transform="rotate(107 246.8 389.2)" fill="#e01414" stroke="#a00000" stroke-width="0.4"/>
<ellipse cx="268.2" cy="388.7" rx="2.42" ry="1.51" transform="rotate(72 268.2 388.7)" fill="#e01414" stroke="#a00000" stroke-width="0.4"/>
<ellipse cx="194.4" cy="403.0" rx="2.42" ry="1.51" transform="rotate(149 194.4 403.0)" fill="#e01414" stroke="#a00000" stroke-width="0.4"/>
<ellipse cx="208.0" cy="403.3" rx="2.42" ry="1.51" transform="rotate(34 208.0 403.3)" fill="#e01414" stroke="#a00000" stroke-width="0.4"/>
<ellipse cx="221.2" cy="402.7" rx="2.42" ry="1.51" transform="rotate(142 221.2 402.7)" fill="#e01414" stroke="#a00000" stroke-width="0.4"/>
<ellipse cx="236.0" cy="397.4" rx="2.42" ry="1.51" transform="rotate(-1 236.0 397.4)" fill="#e01414" stroke="#a00000" stroke-width="0.4"/>
<ellipse cx="250.6" cy="401.9" rx="2.42" ry="1.51" transform="rotate(37 250.6 401.9)" fill="#e01414" stroke="#a00000" stroke-width="0.4"/>
<ellipse cx="263.8" cy="401.5" rx="2.42" ry="1.51" transform="rotate(144 263.8 401.5)" fill="#e01414" stroke="#a00000" stroke-width="0.4"/>
<ellipse cx="276.7" cy="401.8" rx="2.42" ry="1.51" transform="rotate(41 276.7 401.8)" fill="#e01414" stroke="#a00000" stroke-width="0.4"/>
<ellipse cx="258.8" cy="412.5" rx="2.42" ry="1.51" transform="rotate(71 258.8 412.5)" fill="#e01414" stroke="#a00000" stroke-width="0.4"/>
<ellipse cx="280.4" cy="412.8" rx="2.42" ry="1.51" transform="rotate(113 280.4 412.8)" fill="#e01414" stroke="#a00000" stroke-width="0.4"/>
<ellipse cx="269.4" cy="418.4" rx="2.42" ry="1.51" transform="rotate(0 269.4 418.4)" fill="#e01414" stroke="#a00000" stroke-width="0.4"/>
<ellipse cx="256.2" cy="351.8" rx="2.42" ry="1.51" transform="rotate(-90 256.2 351.8)" fill="#e01414" stroke="#a00000" stroke-width="0.4"/>
<ellipse cx="281.4" cy="352.6" rx="2.42" ry="1.51" transform="rotate(-102 281.4 352.6)" fill="#e01414" stroke="#a00000" stroke-width="0.4"/>
<ellipse cx="287.4" cy="361.4" rx="2.42" ry="1.51" transform="rotate(12 287.4 361.4)" fill="#e01414" stroke="#a00000" stroke-width="0.4"/>
<ellipse cx="188.1" cy="414.7" rx="2.42" ry="1.51" transform="rotate(85 188.1 414.7)" fill="#e01414" stroke="#a00000" stroke-width="0.4"/>
<ellipse cx="213.2" cy="415.1" rx="2.42" ry="1.51" transform="rotate(102 213.2 415.1)" fill="#e01414" stroke="#a00000" stroke-width="0.4"/>
<ellipse cx="179.6" cy="407.5" rx="2.42" ry="1.51" transform="rotate(177 179.6 407.5)" fill="#e01414" stroke="#a00000" stroke-width="0.4"/>
<ellipse cx="179.8" cy="360.6" rx="2.42" ry="1.51" transform="rotate(-179 179.8 360.6)" fill="#e01414" stroke="#a00000" stroke-width="0.4"/>
<ellipse cx="289.9" cy="407.1" rx="2.42" ry="1.51" transform="rotate(0 289.9 407.1)" fill="#e01414" stroke="#a00000" stroke-width="0.4"/>
<ellipse cx="190.5" cy="345.0" rx="2.42" ry="1.51" transform="rotate(-115 190.5 345.0)" fill="#e01414" stroke="#a00000" stroke-width="0.4"/>
<ellipse cx="212.0" cy="344.7" rx="2.42" ry="1.51" transform="rotate(-62 212.0 344.7)" fill="#e01414" stroke="#a00000" stroke-width="0.4"/>
<ellipse cx="237.2" cy="370.6" rx="2.42" ry="1.51" transform="rotate(-178 237.2 370.6)" fill="#e01414" stroke="#a00000" stroke-width="0.4"/>
<circle cx="192.7" cy="349.7" r="2.52" fill="#eaea1e" stroke="#8a8a10" stroke-width="0.45"/>
<circle cx="209.7" cy="349.1" r="2.52" fill="#eaea1e" stroke="#8a8a10" stroke-width="0.45"/>
<circle cx="188.1" cy="360.8" r="2.52" fill="#eaea1e" stroke="#8a8a10" stroke-width="0.45"/>
<circle cx="214.1" cy="362.3" r="2.69" fill="#1818e8" stroke="#000070" stroke-width="0.45"/>
<circle cx="200.1" cy="369.8" r="2.52" fill="#eaea1e" stroke="#8a8a10" stroke-width="0.45"/>
<circle cx="227.7" cy="371.3" r="2.52" fill="#eaea1e" stroke="#8a8a10" stroke-width="0.45"/>
<circle cx="244.2" cy="370.8" r="2.52" fill="#eaea1e" stroke="#8a8a10" stroke-width="0.45"/>
<circle cx="256.2" cy="359.8" r="2.52" fill="#eaea1e" stroke="#8a8a10" stroke-width="0.45"/>
<circle cx="270.1" cy="369.0" r="2.52" fill="#eaea1e" stroke="#8a8a10" stroke-width="0.45"/>
<circle cx="283.1" cy="360.5" r="2.52" fill="#eaea1e" stroke="#8a8a10" stroke-width="0.45"/>
<circle cx="204.7" cy="386.3" r="2.52" fill="#eaea1e" stroke="#8a8a10" stroke-width="0.45"/>
<circle cx="221.7" cy="386.1" r="2.52" fill="#eaea1e" stroke="#8a8a10" stroke-width="0.45"/>
<circle cx="249.2" cy="381.3" r="2.52" fill="#eaea1e" stroke="#8a8a10" stroke-width="0.45"/>
<circle cx="265.7" cy="380.9" r="2.52" fill="#eaea1e" stroke="#8a8a10" stroke-width="0.45"/>
<circle cx="201.4" cy="398.8" r="2.52" fill="#eaea1e" stroke="#8a8a10" stroke-width="0.45"/>
<circle cx="227.7" cy="397.6" r="2.52" fill="#eaea1e" stroke="#8a8a10" stroke-width="0.45"/>
<circle cx="244.3" cy="397.2" r="2.52" fill="#eaea1e" stroke="#8a8a10" stroke-width="0.45"/>
<circle cx="270.7" cy="396.5" r="2.52" fill="#eaea1e" stroke="#8a8a10" stroke-width="0.45"/>
<circle cx="187.5" cy="407.1" r="2.52" fill="#eaea1e" stroke="#8a8a10" stroke-width="0.45"/>
<circle cx="214.7" cy="407.8" r="2.52" fill="#eaea1e" stroke="#8a8a10" stroke-width="0.45"/>
<circle cx="256.8" cy="406.5" r="2.52" fill="#eaea1e" stroke="#8a8a10" stroke-width="0.45"/>
<circle cx="282.7" cy="407.1" r="2.52" fill="#eaea1e" stroke="#8a8a10" stroke-width="0.45"/>
<circle cx="260.8" cy="418.4" r="2.52" fill="#eaea1e" stroke="#8a8a10" stroke-width="0.45"/>
<circle cx="278.0" cy="418.4" r="2.52" fill="#eaea1e" stroke="#8a8a10" stroke-width="0.45"/>
<path d="M191.0,348.4L208.0,347.8M191.0,348.4L186.4,359.5M208.0,347.8L212.4,361.0M186.4,359.5L198.4,368.5M212.4,361.0L198.4,368.5M212.4,361.0L226.0,370.0M226.0,370.0L242.5,369.5M242.5,369.5L254.5,358.5M254.5,358.5L268.4,367.7M268.4,367.7L281.4,359.2M198.4,368.5L203.0,385.0M203.0,385.0L220.0,384.8M226.0,370.0L220.0,384.8M242.5,369.5L247.5,380.0M247.5,380.0L264.0,379.6M268.4,367.7L264.0,379.6M203.0,385.0L199.7,397.5M220.0,384.8L226.0,396.3M247.5,380.0L242.6,395.9M264.0,379.6L269.0,395.2M199.7,397.5L185.8,405.8M199.7,397.5L213.0,406.5M226.0,396.3L213.0,406.5M226.0,396.3L242.6,395.9M242.6,395.9L255.1,405.2M269.0,395.2L255.1,405.2M269.0,395.2L281.0,405.8M255.1,405.2L259.1,417.1M281.0,405.8L276.3,417.1M259.1,417.1L276.3,417.1M254.5,358.5L254.6,342.5M281.4,359.2L278.0,343.5M281.4,359.2L290.0,361.0M185.8,405.8L187.0,421.0M213.0,406.5L210.0,421.0M185.8,405.8L170.0,406.5M186.4,359.5L169.8,359.2M281.0,405.8L295.5,405.8M191.0,348.4L186.7,339.0M208.0,347.8L212.7,339.0M242.5,369.5L228.5,369.0" stroke="#e02828" stroke-width="0.90" fill="none"/>
<path d="M191.0,348.4L196.1,348.2M191.0,348.4L189.6,351.7M208.0,347.8L209.3,351.8M186.4,359.5L190.0,362.2M212.4,361.0L208.2,363.2M212.4,361.0L216.5,363.7M226.0,370.0L230.9,369.9M242.5,369.5L246.1,366.2M254.5,358.5L258.7,361.3M268.4,367.7L272.3,365.1M198.4,368.5L199.8,373.4M203.0,385.0L208.1,384.9M226.0,370.0L224.2,374.4M242.5,369.5L244.0,372.6M247.5,380.0L252.4,379.9M268.4,367.7L267.1,371.3M203.0,385.0L202.0,388.8M220.0,384.8L221.8,388.2M247.5,380.0L246.0,384.8M264.0,379.6L265.5,384.3M199.7,397.5L195.5,400.0M199.7,397.5L203.7,400.2M226.0,396.3L222.1,399.4M226.0,396.3L231.0,396.2M242.6,395.9L246.3,398.7M269.0,395.2L264.8,398.2M269.0,395.2L272.6,398.4M255.1,405.2L256.3,408.8M281.0,405.8L279.6,409.2M259.1,417.1L264.3,417.1M254.5,358.5L254.5,353.7M281.4,359.2L280.4,354.5M281.4,359.2L284.0,359.7M185.8,405.8L186.2,410.4M213.0,406.5L212.1,410.9M185.8,405.8L181.1,406.0M186.4,359.5L181.4,359.4M281.0,405.8L285.4,405.8M191.0,348.4L189.7,345.6M208.0,347.8L209.4,345.2M242.5,369.5L238.3,369.4" stroke="#e4dc30" stroke-width="0.90" fill="none"/>
<ellipse cx="199.5" cy="348.1" rx="2.42" ry="1.51" transform="rotate(-2 199.5 348.1)" fill="#e01414" stroke="#a00000" stroke-width="0.4"/>
<ellipse cx="188.7" cy="353.9" rx="2.42" ry="1.51" transform="rotate(113 188.7 353.9)" fill="#e01414" stroke="#a00000" stroke-width="0.4"/>
<ellipse cx="210.2" cy="354.4" rx="2.42" ry="1.51" transform="rotate(72 210.2 354.4)" fill="#e01414" stroke="#a00000" stroke-width="0.4"/>
<ellipse cx="192.4" cy="364.0" rx="2.42" ry="1.51" transform="rotate(37 192.4 364.0)" fill="#e01414" stroke="#a00000" stroke-width="0.4"/>
<ellipse cx="205.4" cy="364.8" rx="2.42" ry="1.51" transform="rotate(152 205.4 364.8)" fill="#e01414" stroke="#a00000" stroke-width="0.4"/>
<ellipse cx="219.2" cy="365.5" rx="2.42" ry="1.51" transform="rotate(33 219.2 365.5)" fill="#e01414" stroke="#a00000" stroke-width="0.4"/>
<ellipse cx="234.2" cy="369.8" rx="2.42" ry="1.51" transform="rotate(-2 234.2 369.8)" fill="#e01414" stroke="#a00000" stroke-width="0.4"/>
<ellipse cx="248.5" cy="364.0" rx="2.42" ry="1.51" transform="rotate(-43 248.5 364.0)" fill="#e01414" stroke="#a00000" stroke-width="0.4"/>
<ellipse cx="261.4" cy="363.1" rx="2.42" ry="1.51" transform="rotate(33 261.4 363.1)" fill="#e01414" stroke="#a00000" stroke-width="0.4"/>
<ellipse cx="274.9" cy="363.4" rx="2.42" ry="1.51" transform="rotate(-33 274.9 363.4)" fill="#e01414" stroke="#a00000" stroke-width="0.4"/>
<ellipse cx="200.7" cy="376.8" rx="2.42" ry="1.51" transform="rotate(74 200.7 376.8)" fill="#e01414" stroke="#a00000" stroke-width="0.4"/>
<ellipse cx="211.5" cy="384.9" rx="2.42" ry="1.51" transform="rotate(-1 211.5 384.9)" fill="#e01414" stroke="#a00000" stroke-width="0.4"/>
<ellipse cx="223.0" cy="377.4" rx="2.42" ry="1.51" transform="rotate(112 223.0 377.4)" fill="#e01414" stroke="#a00000" stroke-width="0.4"/>
<ellipse cx="245.0" cy="374.8" rx="2.42" ry="1.51" transform="rotate(65 245.0 374.8)" fill="#e01414" stroke="#a00000" stroke-width="0.4"/>
<ellipse cx="255.8" cy="379.8" rx="2.42" ry="1.51" transform="rotate(-1 255.8 379.8)" fill="#e01414" stroke="#a00000" stroke-width="0.4"/>
<ellipse cx="266.2" cy="373.6" rx="2.42" ry="1.51" transform="rotate(110 266.2 373.6)" fill="#e01414" stroke="#a00000" stroke-width="0.4"/>
<ellipse cx="201.3" cy="391.2" rx="2.42" ry="1.51" transform="rotate(105 201.3 391.2)" fill="#e01414" stroke="#a00000" stroke-width="0.4"/>
<ellipse cx="223.0" cy="390.6" rx="2.42" ry="1.51" transform="rotate(62 223.0 390.6)" fill="#e01414" stroke="#a00000" stroke-width="0.4"/>
<ellipse cx="245.1" cy="387.9" rx="2.42" ry="1.51" transform="rotate(107 245.1 387.9)" fill="#e01414" stroke="#a00000" stroke-width="0.4"/>
<ellipse cx="266.5" cy="387.4" rx="2.42" ry="1.51" transform="rotate(72 266.5 387.4)" fill="#e01414" stroke="#a00000" stroke-width="0.4"/>
<ellipse cx="192.8" cy="401.6" rx="2.42" ry="1.51" transform="rotate(149 192.8 401.6)" fill="#e01414" stroke="#a00000" stroke-width="0.4"/>
<ellipse cx="206.3" cy="402.0" rx="2.42" ry="1.51" transform="rotate(34 206.3 402.0)" fill="#e01414" stroke="#a00000" stroke-width="0.4"/>
<ellipse cx="219.5" cy="401.4" rx="2.42" ry="1.51" transform="rotate(142 219.5 401.4)" fill="#e01414" stroke="#a00000" stroke-width="0.4"/>
<ellipse cx="234.3" cy="396.1" rx="2.42" ry="1.51" transform="rotate(-1 234.3 396.1)" fill="#e01414" stroke="#a00000" stroke-width="0.4"/>
<ellipse cx="248.8" cy="400.5" rx="2.42" ry="1.51" transform="rotate(37 248.8 400.5)" fill="#e01414" stroke="#a00000" stroke-width="0.4"/>
<ellipse cx="262.1" cy="400.2" rx="2.42" ry="1.51" transform="rotate(144 262.1 400.2)" fill="#e01414" stroke="#a00000" stroke-width="0.4"/>
<ellipse cx="275.0" cy="400.5" rx="2.42" ry="1.51" transform="rotate(41 275.0 400.5)" fill="#e01414" stroke="#a00000" stroke-width="0.4"/>
<ellipse cx="257.1" cy="411.1" rx="2.42" ry="1.51" transform="rotate(71 257.1 411.1)" fill="#e01414" stroke="#a00000" stroke-width="0.4"/>
<ellipse cx="278.6" cy="411.5" rx="2.42" ry="1.51" transform="rotate(113 278.6 411.5)" fill="#e01414" stroke="#a00000" stroke-width="0.4"/>
<ellipse cx="267.7" cy="417.1" rx="2.42" ry="1.51" transform="rotate(0 267.7 417.1)" fill="#e01414" stroke="#a00000" stroke-width="0.4"/>
<ellipse cx="254.6" cy="350.5" rx="2.42" ry="1.51" transform="rotate(-90 254.6 350.5)" fill="#e01414" stroke="#a00000" stroke-width="0.4"/>
<ellipse cx="279.7" cy="351.4" rx="2.42" ry="1.51" transform="rotate(-102 279.7 351.4)" fill="#e01414" stroke="#a00000" stroke-width="0.4"/>
<ellipse cx="285.7" cy="360.1" rx="2.42" ry="1.51" transform="rotate(12 285.7 360.1)" fill="#e01414" stroke="#a00000" stroke-width="0.4"/>
<ellipse cx="186.4" cy="413.4" rx="2.42" ry="1.51" transform="rotate(85 186.4 413.4)" fill="#e01414" stroke="#a00000" stroke-width="0.4"/>
<ellipse cx="211.5" cy="413.8" rx="2.42" ry="1.51" transform="rotate(102 211.5 413.8)" fill="#e01414" stroke="#a00000" stroke-width="0.4"/>
<ellipse cx="177.9" cy="406.1" rx="2.42" ry="1.51" transform="rotate(177 177.9 406.1)" fill="#e01414" stroke="#a00000" stroke-width="0.4"/>
<ellipse cx="178.1" cy="359.4" rx="2.42" ry="1.51" transform="rotate(-179 178.1 359.4)" fill="#e01414" stroke="#a00000" stroke-width="0.4"/>
<ellipse cx="288.2" cy="405.8" rx="2.42" ry="1.51" transform="rotate(0 288.2 405.8)" fill="#e01414" stroke="#a00000" stroke-width="0.4"/>
<ellipse cx="188.8" cy="343.7" rx="2.42" ry="1.51" transform="rotate(-115 188.8 343.7)" fill="#e01414" stroke="#a00000" stroke-width="0.4"/>
<ellipse cx="210.3" cy="343.4" rx="2.42" ry="1.51" transform="rotate(-62 210.3 343.4)" fill="#e01414" stroke="#a00000" stroke-width="0.4"/>
<ellipse cx="235.5" cy="369.2" rx="2.42" ry="1.51" transform="rotate(-178 235.5 369.2)" fill="#e01414" stroke="#a00000" stroke-width="0.4"/>
<circle cx="191.0" cy="348.4" r="2.52" fill="#eaea1e" stroke="#8a8a10" stroke-width="0.45"/>
<circle cx="208.0" cy="347.8" r="2.52" fill="#eaea1e" stroke="#8a8a10" stroke-width="0.45"/>
<circle cx="186.4" cy="359.5" r="2.52" fill="#eaea1e" stroke="#8a8a10" stroke-width="0.45"/>
<circle cx="212.4" cy="361.0" r="2.69" fill="#1818e8" stroke="#000070" stroke-width="0.45"/>
<circle cx="198.4" cy="368.5" r="2.52" fill="#eaea1e" stroke="#8a8a10" stroke-width="0.45"/>
<circle cx="226.0" cy="370.0" r="2.52" fill="#eaea1e" stroke="#8a8a10" stroke-width="0.45"/>
<circle cx="242.5" cy="369.5" r="2.52" fill="#eaea1e" stroke="#8a8a10" stroke-width="0.45"/>
<circle cx="254.5" cy="358.5" r="2.52" fill="#eaea1e" stroke="#8a8a10" stroke-width="0.45"/>
<circle cx="268.4" cy="367.7" r="2.52" fill="#eaea1e" stroke="#8a8a10" stroke-width="0.45"/>
<circle cx="281.4" cy="359.2" r="2.52" fill="#eaea1e" stroke="#8a8a10" stroke-width="0.45"/>
<circle cx="203.0" cy="385.0" r="2.52" fill="#eaea1e" stroke="#8a8a10" stroke-width="0.45"/>
<circle cx="220.0" cy="384.8" r="2.52" fill="#eaea1e" stroke="#8a8a10" stroke-width="0.45"/>
<circle cx="247.5" cy="380.0" r="2.52" fill="#eaea1e" stroke="#8a8a10" stroke-width="0.45"/>
<circle cx="264.0" cy="379.6" r="2.52" fill="#eaea1e" stroke="#8a8a10" stroke-width="0.45"/>
<circle cx="199.7" cy="397.5" r="2.52" fill="#eaea1e" stroke="#8a8a10" stroke-width="0.45"/>
<circle cx="226.0" cy="396.3" r="2.52" fill="#eaea1e" stroke="#8a8a10" stroke-width="0.45"/>
<circle cx="242.6" cy="395.9" r="2.52" fill="#eaea1e" stroke="#8a8a10" stroke-width="0.45"/>
<circle cx="269.0" cy="395.2" r="2.52" fill="#eaea1e" stroke="#8a8a10" stroke-width="0.45"/>
<circle cx="185.8" cy="405.8" r="2.52" fill="#eaea1e" stroke="#8a8a10" stroke-width="0.45"/>
<circle cx="213.0" cy="406.5" r="2.52" fill="#eaea1e" stroke="#8a8a10" stroke-width="0.45"/>
<circle cx="255.1" cy="405.2" r="2.52" fill="#eaea1e" stroke="#8a8a10" stroke-width="0.45"/>
<circle cx="281.0" cy="405.8" r="2.52" fill="#eaea1e" stroke="#8a8a10" stroke-width="0.45"/>
<circle cx="259.1" cy="417.1" r="2.52" fill="#eaea1e" stroke="#8a8a10" stroke-width="0.45"/>
<circle cx="276.3" cy="417.1" r="2.52" fill="#eaea1e" stroke="#8a8a10" stroke-width="0.45"/>
</g>
<rect x="177.60" y="342.00" width="113.70" height="81.20" fill="none" stroke="#000" stroke-width="1.4"/>
<rect x="163.50" y="327.70" width="135.10" height="113.60" fill="none" stroke="#ff0000" stroke-width="2.6"/>
<text x="233.7" y="321" text-anchor="middle" font-size="11" fill="#ff0000" stroke="#ff0000">H-ZSM-5</text>
<g>
<path d="M308.6,417.1L314.6,420.4M326.8,335.1L323.5,328.6M323.9,431.7L323.9,439.0M379.2,431.0L379.2,438.3M468.6,431.7L468.6,439.0M375.0,333.8L380.8,328.6M333.3,341.6L330.0,348.8M402.4,421.7L405.7,429.0M352.2,339.0L360.0,337.1M415.6,433.7L423.6,431.7M369.8,340.3L375.0,333.8M442.2,429.7L448.1,435.6M468.4,362.5L467.7,370.9M343.0,337.1L343.0,328.6M467.1,354.0L468.4,362.5M379.2,422.4L379.2,431.0M468.0,423.0L468.6,431.7M369.8,340.3L373.7,348.1M323.2,423.0L323.9,431.7M405.7,429.0L399.7,435.6M314.6,420.4L323.2,423.0M423.6,431.7L432.2,434.3M467.7,370.9L459.3,374.2M326.8,335.1L333.3,341.6M442.2,429.7L446.8,421.7M387.3,348.8L396.5,347.5M343.0,337.1L352.2,339.0M360.0,337.1L369.8,340.3M333.3,341.6L343.0,337.1M405.7,429.0L415.6,433.7M432.2,434.3L442.2,429.7M468.0,385.0L468.0,397.2M308.6,374.2L308.6,387.0M468.0,397.2L468.0,410.0M308.6,348.1L308.6,361.0M308.6,387.0L308.6,399.9M468.0,410.0L468.0,423.0M308.6,374.2L308.6,361.0M373.7,348.1L387.3,348.8M459.3,374.2L468.0,385.0M352.2,339.0L343.0,328.6M446.8,421.7L448.1,435.6M326.8,335.1L330.0,348.8M467.7,370.9L468.0,385.0M402.4,421.7L399.7,435.6M375.0,333.8L373.7,348.1M314.6,420.4L323.9,431.7M468.4,362.5L459.3,374.2M308.6,331.9L323.5,328.6M450.8,331.2L450.8,346.8M308.6,417.1L323.2,423.0M379.2,422.4L379.2,438.3M380.8,328.6L396.5,331.2M432.2,434.3L448.1,435.6M468.0,423.0L468.6,439.0M399.7,435.6L415.6,433.7M308.6,331.9L308.6,348.1M396.5,331.2L396.5,347.5" stroke="#bdbdbd" stroke-width="0.65" fill="none"/>
<circle cx="311.6" cy="418.8" r="1.2" fill="#f4f4f4" stroke="#a0a0a0" stroke-width="0.6"/>
<circle cx="325.1" cy="331.9" r="1.2" fill="#f4f4f4" stroke="#a0a0a0" stroke-width="0.6"/>
<circle cx="323.9" cy="435.4" r="1.2" fill="#f4f4f4" stroke="#a0a0a0" stroke-width="0.6"/>
<circle cx="379.2" cy="434.6" r="1.2" fill="#f4f4f4" stroke="#a0a0a0" stroke-width="0.6"/>
<circle cx="468.6" cy="435.4" r="1.2" fill="#f4f4f4" stroke="#a0a0a0" stroke-width="0.6"/>
<circle cx="377.9" cy="331.2" r="1.2" fill="#f4f4f4" stroke="#a0a0a0" stroke-width="0.6"/>
<circle cx="331.6" cy="345.2" r="1.2" fill="#f4f4f4" stroke="#a0a0a0" stroke-width="0.6"/>
<circle cx="404.0" cy="425.4" r="1.2" fill="#f4f4f4" stroke="#a0a0a0" stroke-width="0.6"/>
<circle cx="356.1" cy="338.1" r="1.2" fill="#f4f4f4" stroke="#a0a0a0" stroke-width="0.6"/>
<circle cx="419.6" cy="432.7" r="1.2" fill="#f4f4f4" stroke="#a0a0a0" stroke-width="0.6"/>
<circle cx="372.4" cy="337.1" r="1.2" fill="#f4f4f4" stroke="#a0a0a0" stroke-width="0.6"/>
<circle cx="445.1" cy="432.6" r="1.2" fill="#f4f4f4" stroke="#a0a0a0" stroke-width="0.6"/>
<circle cx="468.0" cy="366.7" r="1.2" fill="#f4f4f4" stroke="#a0a0a0" stroke-width="0.6"/>
<circle cx="343.0" cy="332.9" r="1.2" fill="#f4f4f4" stroke="#a0a0a0" stroke-width="0.6"/>
<circle cx="467.8" cy="358.2" r="1.2" fill="#f4f4f4" stroke="#a0a0a0" stroke-width="0.6"/>
<circle cx="379.2" cy="426.7" r="1.2" fill="#f4f4f4" stroke="#a0a0a0" stroke-width="0.6"/>
<circle cx="468.3" cy="427.4" r="1.2" fill="#f4f4f4" stroke="#a0a0a0" stroke-width="0.6"/>
<circle cx="371.8" cy="344.2" r="1.2" fill="#f4f4f4" stroke="#a0a0a0" stroke-width="0.6"/>
<circle cx="323.5" cy="427.4" r="1.2" fill="#f4f4f4" stroke="#a0a0a0" stroke-width="0.6"/>
<circle cx="402.7" cy="432.3" r="1.2" fill="#f4f4f4" stroke="#a0a0a0" stroke-width="0.6"/>
<circle cx="318.9" cy="421.7" r="1.2" fill="#f4f4f4" stroke="#a0a0a0" stroke-width="0.6"/>
<circle cx="427.9" cy="433.0" r="1.2" fill="#f4f4f4" stroke="#a0a0a0" stroke-width="0.6"/>
<circle cx="463.5" cy="372.5" r="1.2" fill="#f4f4f4" stroke="#a0a0a0" stroke-width="0.6"/>
<circle cx="330.1" cy="338.4" r="1.2" fill="#f4f4f4" stroke="#a0a0a0" stroke-width="0.6"/>
<circle cx="444.5" cy="425.7" r="1.2" fill="#f4f4f4" stroke="#a0a0a0" stroke-width="0.6"/>
<circle cx="391.9" cy="348.1" r="1.2" fill="#f4f4f4" stroke="#a0a0a0" stroke-width="0.6"/>
<circle cx="347.6" cy="338.1" r="1.2" fill="#f4f4f4" stroke="#a0a0a0" stroke-width="0.6"/>
<circle cx="364.9" cy="338.7" r="1.2" fill="#f4f4f4" stroke="#a0a0a0" stroke-width="0.6"/>
<circle cx="338.1" cy="339.4" r="1.2" fill="#f4f4f4" stroke="#a0a0a0" stroke-width="0.6"/>
<circle cx="410.6" cy="431.4" r="1.2" fill="#f4f4f4" stroke="#a0a0a0" stroke-width="0.6"/>
<circle cx="437.2" cy="432.0" r="1.2" fill="#f4f4f4" stroke="#a0a0a0" stroke-width="0.6"/>
<circle cx="468.0" cy="391.1" r="1.2" fill="#f4f4f4" stroke="#a0a0a0" stroke-width="0.6"/>
<circle cx="308.6" cy="380.6" r="1.2" fill="#f4f4f4" stroke="#a0a0a0" stroke-width="0.6"/>
<circle cx="468.0" cy="403.6" r="1.2" fill="#f4f4f4" stroke="#a0a0a0" stroke-width="0.6"/>
<circle cx="308.6" cy="354.6" r="1.2" fill="#f4f4f4" stroke="#a0a0a0" stroke-width="0.6"/>
<circle cx="308.6" cy="393.4" r="1.2" fill="#f4f4f4" stroke="#a0a0a0" stroke-width="0.6"/>
<circle cx="468.0" cy="416.5" r="1.2" fill="#f4f4f4" stroke="#a0a0a0" stroke-width="0.6"/>
<circle cx="308.6" cy="367.6" r="1.2" fill="#f4f4f4" stroke="#a0a0a0" stroke-width="0.6"/>
<circle cx="380.5" cy="348.5" r="1.2" fill="#f4f4f4" stroke="#a0a0a0" stroke-width="0.6"/>
<circle cx="463.6" cy="379.6" r="1.2" fill="#f4f4f4" stroke="#a0a0a0" stroke-width="0.6"/>
<circle cx="347.6" cy="333.8" r="1.2" fill="#f4f4f4" stroke="#a0a0a0" stroke-width="0.6"/>
<circle cx="447.5" cy="428.6" r="1.2" fill="#f4f4f4" stroke="#a0a0a0" stroke-width="0.6"/>
<circle cx="328.4" cy="342.0" r="1.2" fill="#f4f4f4" stroke="#a0a0a0" stroke-width="0.6"/>
<circle cx="467.9" cy="377.9" r="1.2" fill="#f4f4f4" stroke="#a0a0a0" stroke-width="0.6"/>
<circle cx="401.0" cy="428.6" r="1.2" fill="#f4f4f4" stroke="#a0a0a0" stroke-width="0.6"/>
<circle cx="374.4" cy="341.0" r="1.2" fill="#f4f4f4" stroke="#a0a0a0" stroke-width="0.6"/>
<circle cx="319.2" cy="426.0" r="1.2" fill="#f4f4f4" stroke="#a0a0a0" stroke-width="0.6"/>
<circle cx="463.9" cy="368.4" r="1.2" fill="#f4f4f4" stroke="#a0a0a0" stroke-width="0.6"/>
<circle cx="316.1" cy="330.2" r="1.2" fill="#f4f4f4" stroke="#a0a0a0" stroke-width="0.6"/>
<circle cx="450.8" cy="339.0" r="1.2" fill="#f4f4f4" stroke="#a0a0a0" stroke-width="0.6"/>
<circle cx="315.9" cy="420.1" r="1.2" fill="#f4f4f4" stroke="#a0a0a0" stroke-width="0.6"/>
<circle cx="379.2" cy="430.4" r="1.2" fill="#f4f4f4" stroke="#a0a0a0" stroke-width="0.6"/>
<circle cx="388.6" cy="329.9" r="1.2" fill="#f4f4f4" stroke="#a0a0a0" stroke-width="0.6"/>
<circle cx="440.1" cy="435.0" r="1.2" fill="#f4f4f4" stroke="#a0a0a0" stroke-width="0.6"/>
<circle cx="468.3" cy="431.0" r="1.2" fill="#f4f4f4" stroke="#a0a0a0" stroke-width="0.6"/>
<circle cx="407.6" cy="434.6" r="1.2" fill="#f4f4f4" stroke="#a0a0a0" stroke-width="0.6"/>
<circle cx="308.6" cy="340.0" r="1.2" fill="#f4f4f4" stroke="#a0a0a0" stroke-width="0.6"/>
<circle cx="396.5" cy="339.4" r="1.2" fill="#f4f4f4" stroke="#a0a0a0" stroke-width="0.6"/>
<circle cx="308.6" cy="331.9" r="2.1" fill="#f2f2f2" stroke="#858585" stroke-width="0.8"/>
<circle cx="308.6" cy="348.1" r="2.1" fill="#f2f2f2" stroke="#858585" stroke-width="0.8"/>
<circle cx="326.8" cy="335.1" r="2.1" fill="#f2f2f2" stroke="#858585" stroke-width="0.8"/>
<circle cx="333.3" cy="341.6" r="2.1" fill="#f2f2f2" stroke="#858585" stroke-width="0.8"/>
<circle cx="343.0" cy="337.1" r="2.1" fill="#f2f2f2" stroke="#858585" stroke-width="0.8"/>
<circle cx="352.2" cy="339.0" r="2.1" fill="#f2f2f2" stroke="#858585" stroke-width="0.8"/>
<circle cx="360.0" cy="337.1" r="2.1" fill="#f2f2f2" stroke="#858585" stroke-width="0.8"/>
<circle cx="330.0" cy="348.8" r="2.1" fill="#f2f2f2" stroke="#858585" stroke-width="0.8"/>
<circle cx="323.5" cy="328.6" r="2.1" fill="#f2f2f2" stroke="#858585" stroke-width="0.8"/>
<circle cx="343.0" cy="328.6" r="2.1" fill="#f2f2f2" stroke="#858585" stroke-width="0.8"/>
<circle cx="369.8" cy="340.3" r="2.1" fill="#f2f2f2" stroke="#858585" stroke-width="0.8"/>
<circle cx="375.0" cy="333.8" r="2.1" fill="#f2f2f2" stroke="#858585" stroke-width="0.8"/>
<circle cx="373.7" cy="348.1" r="2.1" fill="#f2f2f2" stroke="#858585" stroke-width="0.8"/>
<circle cx="387.3" cy="348.8" r="2.1" fill="#f2f2f2" stroke="#858585" stroke-width="0.8"/>
<circle cx="380.8" cy="328.6" r="2.1" fill="#f2f2f2" stroke="#858585" stroke-width="0.8"/>
<circle cx="396.5" cy="331.2" r="2.1" fill="#f2f2f2" stroke="#858585" stroke-width="0.8"/>
<circle cx="396.5" cy="347.5" r="2.1" fill="#f2f2f2" stroke="#858585" stroke-width="0.8"/>
<circle cx="450.8" cy="331.2" r="2.1" fill="#f2f2f2" stroke="#858585" stroke-width="0.8"/>
<circle cx="450.8" cy="346.8" r="2.1" fill="#f2f2f2" stroke="#858585" stroke-width="0.8"/>
<circle cx="308.6" cy="374.2" r="2.1" fill="#f2f2f2" stroke="#858585" stroke-width="0.8"/>
<circle cx="308.6" cy="361.0" r="2.1" fill="#f2f2f2" stroke="#858585" stroke-width="0.8"/>
<circle cx="308.6" cy="387.0" r="2.1" fill="#f2f2f2" stroke="#858585" stroke-width="0.8"/>
<circle cx="308.6" cy="399.9" r="2.1" fill="#f2f2f2" stroke="#858585" stroke-width="0.8"/>
<circle cx="308.6" cy="417.1" r="2.1" fill="#f2f2f2" stroke="#858585" stroke-width="0.8"/>
<circle cx="314.6" cy="420.4" r="2.1" fill="#f2f2f2" stroke="#858585" stroke-width="0.8"/>
<circle cx="323.2" cy="423.0" r="2.1" fill="#f2f2f2" stroke="#858585" stroke-width="0.8"/>
<circle cx="323.9" cy="431.7" r="2.1" fill="#f2f2f2" stroke="#858585" stroke-width="0.8"/>
<circle cx="323.9" cy="439.0" r="2.1" fill="#f2f2f2" stroke="#858585" stroke-width="0.8"/>
<circle cx="379.2" cy="422.4" r="2.1" fill="#f2f2f2" stroke="#858585" stroke-width="0.8"/>
<circle cx="379.2" cy="431.0" r="2.1" fill="#f2f2f2" stroke="#858585" stroke-width="0.8"/>
<circle cx="379.2" cy="438.3" r="2.1" fill="#f2f2f2" stroke="#858585" stroke-width="0.8"/>
<circle cx="402.4" cy="421.7" r="2.1" fill="#f2f2f2" stroke="#858585" stroke-width="0.8"/>
<circle cx="405.7" cy="429.0" r="2.1" fill="#f2f2f2" stroke="#858585" stroke-width="0.8"/>
<circle cx="399.7" cy="435.6" r="2.1" fill="#f2f2f2" stroke="#858585" stroke-width="0.8"/>
<circle cx="415.6" cy="433.7" r="2.1" fill="#f2f2f2" stroke="#858585" stroke-width="0.8"/>
<circle cx="423.6" cy="431.7" r="2.1" fill="#f2f2f2" stroke="#858585" stroke-width="0.8"/>
<circle cx="432.2" cy="434.3" r="2.1" fill="#f2f2f2" stroke="#858585" stroke-width="0.8"/>
<circle cx="442.2" cy="429.7" r="2.1" fill="#f2f2f2" stroke="#858585" stroke-width="0.8"/>
<circle cx="446.8" cy="421.7" r="2.1" fill="#f2f2f2" stroke="#858585" stroke-width="0.8"/>
<circle cx="448.1" cy="435.6" r="2.1" fill="#f2f2f2" stroke="#858585" stroke-width="0.8"/>
<circle cx="467.1" cy="354.0" r="2.1" fill="#f2f2f2" stroke="#858585" stroke-width="0.8"/>
<circle cx="468.4" cy="362.5" r="2.1" fill="#f2f2f2" stroke="#858585" stroke-width="0.8"/>
<circle cx="467.7" cy="370.9" r="2.1" fill="#f2f2f2" stroke="#858585" stroke-width="0.8"/>
<circle cx="459.3" cy="374.2" r="2.1" fill="#f2f2f2" stroke="#858585" stroke-width="0.8"/>
<circle cx="468.0" cy="385.0" r="2.1" fill="#f2f2f2" stroke="#858585" stroke-width="0.8"/>
<circle cx="468.0" cy="397.2" r="2.1" fill="#f2f2f2" stroke="#858585" stroke-width="0.8"/>
<circle cx="468.0" cy="410.0" r="2.1" fill="#f2f2f2" stroke="#858585" stroke-width="0.8"/>
<circle cx="468.0" cy="423.0" r="2.1" fill="#f2f2f2" stroke="#858585" stroke-width="0.8"/>
<circle cx="468.6" cy="431.7" r="2.1" fill="#f2f2f2" stroke="#858585" stroke-width="0.8"/>
<circle cx="468.6" cy="439.0" r="2.1" fill="#f2f2f2" stroke="#858585" stroke-width="0.8"/>
<path d="M323.5,354.0L323.5,370.9M323.5,370.9L333.3,383.5M333.3,383.5L343.1,388.0M343.1,388.0L360.0,388.0M333.3,383.5L323.9,397.2M343.1,388.0L343.1,405.8M360.0,388.0L360.2,405.8M323.9,397.2L333.1,409.8M333.1,409.8L343.1,405.8M343.1,405.8L360.2,405.8M360.0,388.0L369.1,383.0M369.1,383.0L378.9,370.3M379.5,354.0L378.9,370.3M378.9,370.3L395.2,374.2M395.2,374.2L404.9,360.5M404.9,360.5L415.8,365.1M415.8,365.1L416.0,382.3M395.2,374.2L405.7,387.3M405.7,387.3L395.8,400.5M405.7,387.3L416.0,382.3M369.1,383.0L379.9,396.6M379.9,396.6L395.8,400.5M379.9,396.6L369.3,409.8M360.2,405.8L369.3,409.8M395.8,400.5L395.8,417.1M415.8,365.1L431.9,365.1M431.9,365.1L441.7,360.5M441.7,360.5L451.5,373.5M431.9,365.1L431.9,382.6M416.0,382.3L431.9,382.6M431.9,382.6L442.2,388.0M442.2,388.0L450.8,400.5M451.5,373.5L442.2,388.0M450.8,400.5L451.4,417.1M323.5,354.0L326.0,347.0M323.5,370.9L308.6,374.2M333.1,409.8L325.0,421.5M404.9,360.5L398.0,348.0M441.7,360.5L448.0,348.5M451.5,373.5L459.3,374.2M450.8,400.5L466.0,397.2M369.3,409.8L374.0,421.0M395.8,417.1L389.0,421.0M379.5,354.0L381.0,347.5M451.4,417.1L452.0,421.0" stroke="#e02828" stroke-width="1.20" fill="none"/>
<path d="M323.5,354.0L323.5,359.1M323.5,370.9L326.4,374.7M333.3,383.5L336.2,384.9M343.1,388.0L348.2,388.0M333.3,383.5L330.5,387.6M343.1,388.0L343.1,393.3M360.0,388.0L360.1,393.3M323.9,397.2L326.7,401.0M333.1,409.8L336.1,408.6M343.1,405.8L348.2,405.8M360.0,388.0L362.7,386.5M369.1,383.0L372.0,379.2M379.5,354.0L379.3,358.9M378.9,370.3L383.8,371.5M395.2,374.2L398.1,370.1M404.9,360.5L408.2,361.9M415.8,365.1L415.9,370.3M395.2,374.2L398.3,378.1M405.7,387.3L402.7,391.3M405.7,387.3L408.8,385.8M369.1,383.0L372.3,387.1M379.9,396.6L384.7,397.8M379.9,396.6L376.7,400.6M360.2,405.8L362.9,407.0M395.8,400.5L395.8,405.5M415.8,365.1L420.6,365.1M431.9,365.1L434.8,363.7M441.7,360.5L444.6,364.4M431.9,365.1L431.9,370.4M416.0,382.3L420.8,382.4M431.9,382.6L435.0,384.2M442.2,388.0L444.8,391.8M451.5,373.5L448.7,377.9M450.8,400.5L451.0,405.5M323.5,354.0L324.2,351.9M323.5,370.9L319.0,371.9M333.1,409.8L330.7,413.3M404.9,360.5L402.8,356.8M441.7,360.5L443.6,356.9M451.5,373.5L453.8,373.7M450.8,400.5L455.4,399.5M369.3,409.8L370.7,413.2M395.8,417.1L393.8,418.3M379.5,354.0L379.9,352.1M451.4,417.1L451.6,418.3" stroke="#e4dc30" stroke-width="1.20" fill="none"/>
<ellipse cx="323.5" cy="362.4" rx="2.40" ry="1.50" transform="rotate(90 323.5 362.4)" fill="#e01414" stroke="#a00000" stroke-width="0.4"/>
<ellipse cx="328.4" cy="377.2" rx="2.40" ry="1.50" transform="rotate(52 328.4 377.2)" fill="#e01414" stroke="#a00000" stroke-width="0.4"/>
<ellipse cx="338.2" cy="385.8" rx="2.40" ry="1.50" transform="rotate(25 338.2 385.8)" fill="#e01414" stroke="#a00000" stroke-width="0.4"/>
<ellipse cx="351.6" cy="388.0" rx="2.40" ry="1.50" transform="rotate(0 351.6 388.0)" fill="#e01414" stroke="#a00000" stroke-width="0.4"/>
<ellipse cx="328.6" cy="390.4" rx="2.40" ry="1.50" transform="rotate(124 328.6 390.4)" fill="#e01414" stroke="#a00000" stroke-width="0.4"/>
<ellipse cx="343.1" cy="396.9" rx="2.40" ry="1.50" transform="rotate(90 343.1 396.9)" fill="#e01414" stroke="#a00000" stroke-width="0.4"/>
<ellipse cx="360.1" cy="396.9" rx="2.40" ry="1.50" transform="rotate(89 360.1 396.9)" fill="#e01414" stroke="#a00000" stroke-width="0.4"/>
<ellipse cx="328.5" cy="403.5" rx="2.40" ry="1.50" transform="rotate(54 328.5 403.5)" fill="#e01414" stroke="#a00000" stroke-width="0.4"/>
<ellipse cx="338.1" cy="407.8" rx="2.40" ry="1.50" transform="rotate(-22 338.1 407.8)" fill="#e01414" stroke="#a00000" stroke-width="0.4"/>
<ellipse cx="351.6" cy="405.8" rx="2.40" ry="1.50" transform="rotate(0 351.6 405.8)" fill="#e01414" stroke="#a00000" stroke-width="0.4"/>
<ellipse cx="364.6" cy="385.5" rx="2.40" ry="1.50" transform="rotate(-29 364.6 385.5)" fill="#e01414" stroke="#a00000" stroke-width="0.4"/>
<ellipse cx="374.0" cy="376.6" rx="2.40" ry="1.50" transform="rotate(-52 374.0 376.6)" fill="#e01414" stroke="#a00000" stroke-width="0.4"/>
<ellipse cx="379.2" cy="362.1" rx="2.40" ry="1.50" transform="rotate(92 379.2 362.1)" fill="#e01414" stroke="#a00000" stroke-width="0.4"/>
<ellipse cx="387.0" cy="372.2" rx="2.40" ry="1.50" transform="rotate(13 387.0 372.2)" fill="#e01414" stroke="#a00000" stroke-width="0.4"/>
<ellipse cx="400.0" cy="367.4" rx="2.40" ry="1.50" transform="rotate(-55 400.0 367.4)" fill="#e01414" stroke="#a00000" stroke-width="0.4"/>
<ellipse cx="410.4" cy="362.8" rx="2.40" ry="1.50" transform="rotate(23 410.4 362.8)" fill="#e01414" stroke="#a00000" stroke-width="0.4"/>
<ellipse cx="415.9" cy="373.7" rx="2.40" ry="1.50" transform="rotate(89 415.9 373.7)" fill="#e01414" stroke="#a00000" stroke-width="0.4"/>
<ellipse cx="400.4" cy="380.8" rx="2.40" ry="1.50" transform="rotate(51 400.4 380.8)" fill="#e01414" stroke="#a00000" stroke-width="0.4"/>
<ellipse cx="400.8" cy="393.9" rx="2.40" ry="1.50" transform="rotate(127 400.8 393.9)" fill="#e01414" stroke="#a00000" stroke-width="0.4"/>
<ellipse cx="410.9" cy="384.8" rx="2.40" ry="1.50" transform="rotate(-26 410.9 384.8)" fill="#e01414" stroke="#a00000" stroke-width="0.4"/>
<ellipse cx="374.5" cy="389.8" rx="2.40" ry="1.50" transform="rotate(52 374.5 389.8)" fill="#e01414" stroke="#a00000" stroke-width="0.4"/>
<ellipse cx="387.9" cy="398.6" rx="2.40" ry="1.50" transform="rotate(14 387.9 398.6)" fill="#e01414" stroke="#a00000" stroke-width="0.4"/>
<ellipse cx="374.6" cy="403.2" rx="2.40" ry="1.50" transform="rotate(129 374.6 403.2)" fill="#e01414" stroke="#a00000" stroke-width="0.4"/>
<ellipse cx="364.8" cy="407.8" rx="2.40" ry="1.50" transform="rotate(24 364.8 407.8)" fill="#e01414" stroke="#a00000" stroke-width="0.4"/>
<ellipse cx="395.8" cy="408.8" rx="2.40" ry="1.50" transform="rotate(90 395.8 408.8)" fill="#e01414" stroke="#a00000" stroke-width="0.4"/>
<ellipse cx="423.9" cy="365.1" rx="2.40" ry="1.50" transform="rotate(0 423.9 365.1)" fill="#e01414" stroke="#a00000" stroke-width="0.4"/>
<ellipse cx="436.8" cy="362.8" rx="2.40" ry="1.50" transform="rotate(-25 436.8 362.8)" fill="#e01414" stroke="#a00000" stroke-width="0.4"/>
<ellipse cx="446.6" cy="367.0" rx="2.40" ry="1.50" transform="rotate(53 446.6 367.0)" fill="#e01414" stroke="#a00000" stroke-width="0.4"/>
<ellipse cx="431.9" cy="373.9" rx="2.40" ry="1.50" transform="rotate(90 431.9 373.9)" fill="#e01414" stroke="#a00000" stroke-width="0.4"/>
<ellipse cx="423.9" cy="382.5" rx="2.40" ry="1.50" transform="rotate(1 423.9 382.5)" fill="#e01414" stroke="#a00000" stroke-width="0.4"/>
<ellipse cx="437.0" cy="385.3" rx="2.40" ry="1.50" transform="rotate(28 437.0 385.3)" fill="#e01414" stroke="#a00000" stroke-width="0.4"/>
<ellipse cx="446.5" cy="394.2" rx="2.40" ry="1.50" transform="rotate(55 446.5 394.2)" fill="#e01414" stroke="#a00000" stroke-width="0.4"/>
<ellipse cx="446.9" cy="380.8" rx="2.40" ry="1.50" transform="rotate(123 446.9 380.8)" fill="#e01414" stroke="#a00000" stroke-width="0.4"/>
<ellipse cx="451.1" cy="408.8" rx="2.40" ry="1.50" transform="rotate(88 451.1 408.8)" fill="#e01414" stroke="#a00000" stroke-width="0.4"/>
<ellipse cx="324.8" cy="350.5" rx="2.40" ry="1.50" transform="rotate(-70 324.8 350.5)" fill="#e01414" stroke="#a00000" stroke-width="0.4"/>
<ellipse cx="316.1" cy="372.5" rx="2.40" ry="1.50" transform="rotate(168 316.1 372.5)" fill="#e01414" stroke="#a00000" stroke-width="0.4"/>
<ellipse cx="329.1" cy="415.6" rx="2.40" ry="1.50" transform="rotate(125 329.1 415.6)" fill="#e01414" stroke="#a00000" stroke-width="0.4"/>
<ellipse cx="401.4" cy="354.2" rx="2.40" ry="1.50" transform="rotate(-119 401.4 354.2)" fill="#e01414" stroke="#a00000" stroke-width="0.4"/>
<ellipse cx="444.9" cy="354.5" rx="2.40" ry="1.50" transform="rotate(-62 444.9 354.5)" fill="#e01414" stroke="#a00000" stroke-width="0.4"/>
<ellipse cx="455.4" cy="373.9" rx="2.40" ry="1.50" transform="rotate(5 455.4 373.9)" fill="#e01414" stroke="#a00000" stroke-width="0.4"/>
<ellipse cx="458.4" cy="398.9" rx="2.40" ry="1.50" transform="rotate(-12 458.4 398.9)" fill="#e01414" stroke="#a00000" stroke-width="0.4"/>
<ellipse cx="371.6" cy="415.4" rx="2.40" ry="1.50" transform="rotate(67 371.6 415.4)" fill="#e01414" stroke="#a00000" stroke-width="0.4"/>
<ellipse cx="392.4" cy="419.1" rx="2.40" ry="1.50" transform="rotate(150 392.4 419.1)" fill="#e01414" stroke="#a00000" stroke-width="0.4"/>
<ellipse cx="380.2" cy="350.8" rx="2.40" ry="1.50" transform="rotate(-77 380.2 350.8)" fill="#e01414" stroke="#a00000" stroke-width="0.4"/>
<ellipse cx="451.7" cy="419.1" rx="2.40" ry="1.50" transform="rotate(81 451.7 419.1)" fill="#e01414" stroke="#a00000" stroke-width="0.4"/>
<circle cx="323.5" cy="354.0" r="2.25" fill="#eaea1e" stroke="#8a8a10" stroke-width="0.45"/>
<circle cx="323.5" cy="370.9" r="2.25" fill="#eaea1e" stroke="#8a8a10" stroke-width="0.45"/>
<circle cx="333.3" cy="383.5" r="2.25" fill="#eaea1e" stroke="#8a8a10" stroke-width="0.45"/>
<circle cx="343.1" cy="388.0" r="2.25" fill="#eaea1e" stroke="#8a8a10" stroke-width="0.45"/>
<circle cx="360.0" cy="388.0" r="2.25" fill="#eaea1e" stroke="#8a8a10" stroke-width="0.45"/>
<circle cx="323.9" cy="397.2" r="2.25" fill="#eaea1e" stroke="#8a8a10" stroke-width="0.45"/>
<circle cx="343.1" cy="405.8" r="2.25" fill="#eaea1e" stroke="#8a8a10" stroke-width="0.45"/>
<circle cx="360.2" cy="405.8" r="2.25" fill="#eaea1e" stroke="#8a8a10" stroke-width="0.45"/>
<circle cx="333.1" cy="409.8" r="2.25" fill="#eaea1e" stroke="#8a8a10" stroke-width="0.45"/>
<circle cx="379.5" cy="354.0" r="2.25" fill="#eaea1e" stroke="#8a8a10" stroke-width="0.45"/>
<circle cx="378.9" cy="370.3" r="2.25" fill="#eaea1e" stroke="#8a8a10" stroke-width="0.45"/>
<circle cx="395.2" cy="374.2" r="2.25" fill="#eaea1e" stroke="#8a8a10" stroke-width="0.45"/>
<circle cx="369.1" cy="383.0" r="2.40" fill="#1818e8" stroke="#000070" stroke-width="0.45"/>
<circle cx="404.9" cy="360.5" r="2.25" fill="#eaea1e" stroke="#8a8a10" stroke-width="0.45"/>
<circle cx="415.8" cy="365.1" r="2.25" fill="#eaea1e" stroke="#8a8a10" stroke-width="0.45"/>
<circle cx="416.0" cy="382.3" r="2.25" fill="#eaea1e" stroke="#8a8a10" stroke-width="0.45"/>
<circle cx="379.9" cy="396.6" r="2.25" fill="#eaea1e" stroke="#8a8a10" stroke-width="0.45"/>
<circle cx="395.8" cy="400.5" r="2.25" fill="#eaea1e" stroke="#8a8a10" stroke-width="0.45"/>
<circle cx="405.7" cy="387.3" r="2.25" fill="#eaea1e" stroke="#8a8a10" stroke-width="0.45"/>
<circle cx="369.3" cy="409.8" r="2.25" fill="#eaea1e" stroke="#8a8a10" stroke-width="0.45"/>
<circle cx="395.8" cy="417.1" r="2.25" fill="#eaea1e" stroke="#8a8a10" stroke-width="0.45"/>
<circle cx="431.9" cy="365.1" r="2.25" fill="#eaea1e" stroke="#8a8a10" stroke-width="0.45"/>
<circle cx="441.7" cy="360.5" r="2.25" fill="#eaea1e" stroke="#8a8a10" stroke-width="0.45"/>
<circle cx="451.5" cy="373.5" r="2.25" fill="#eaea1e" stroke="#8a8a10" stroke-width="0.45"/>
<circle cx="431.9" cy="382.6" r="2.25" fill="#eaea1e" stroke="#8a8a10" stroke-width="0.45"/>
<circle cx="442.2" cy="388.0" r="2.25" fill="#eaea1e" stroke="#8a8a10" stroke-width="0.45"/>
<circle cx="450.8" cy="400.5" r="2.25" fill="#eaea1e" stroke="#8a8a10" stroke-width="0.45"/>
<circle cx="451.4" cy="417.1" r="2.25" fill="#eaea1e" stroke="#8a8a10" stroke-width="0.45"/>
</g>
<rect x="315.90" y="351.30" width="144.70" height="67.10" fill="none" stroke="#000" stroke-width="1.4"/>
<rect x="305.70" y="327.30" width="167.10" height="114.30" fill="none" stroke="#008000" stroke-width="2.6"/>
<text x="385.8" y="321" text-anchor="middle" font-size="11" fill="#008000" stroke="#008000">H-BEA</text>
<g>
<path d="M558.8,431.7L560.2,425.7M568.2,335.8L566.3,342.3M584.5,335.8L588.4,330.0M587.1,357.3L584.5,363.8M584.5,350.1L577.3,349.4M568.2,335.8L565.0,329.3M568.8,411.8L576.1,411.8M541.6,424.4L542.3,417.1M584.5,335.8L586.4,342.9M543.0,431.7L541.6,424.4M586.4,342.9L584.5,350.1M589.3,392.0L584.7,397.9M584.5,350.1L587.1,357.3M489.8,364.4L485.9,371.0M525.7,435.0L533.0,437.6M550.9,417.1L558.8,417.1M543.0,431.7L550.9,432.3M550.9,432.3L558.8,431.7M550.0,336.0L550.0,344.0M584.5,335.8L576.7,334.0M511.8,432.3L517.1,438.3M491.3,425.7L499.2,427.0M507.2,425.7L511.8,432.3M584.5,363.8L588.4,370.9M499.2,427.0L507.2,425.7M576.7,427.7L584.7,425.7M568.8,425.0L576.7,427.7M542.3,417.1L550.9,417.1M584.7,411.8L576.1,411.8M560.2,425.7L568.8,425.0M584.7,425.7L589.3,433.0M568.2,335.8L576.7,334.0M560.2,425.7L558.8,417.1M485.9,371.0L486.0,380.0M491.3,425.7L486.0,433.0M517.1,438.3L525.7,435.0M486.0,390.0L491.3,397.9M486.0,380.0L486.0,390.0M588.4,370.9L586.0,381.0M586.4,342.9L577.3,349.4M558.8,417.1L568.8,411.8M586.0,381.0L589.3,392.0M533.0,437.6L543.0,431.7M541.6,424.4L550.9,417.1M558.8,431.7L568.8,425.0M576.7,334.0L588.4,330.0M577.3,349.4L587.1,357.3M507.3,335.8L517.8,342.9M533.4,342.9L533.4,329.9M566.3,342.3L565.0,329.3M517.8,342.9L520.0,330.0M533.4,329.9L520.0,330.0M576.7,427.7L589.3,433.0M499.2,427.0L511.8,432.3M491.3,411.8L491.3,425.7M584.7,425.7L584.7,411.8M491.3,397.9L491.3,411.8M584.7,397.9L584.7,411.8M507.3,335.8L520.0,330.0M491.1,335.8L491.7,350.1M491.7,350.1L489.8,364.4M517.8,342.9L533.4,342.9M517.1,438.3L533.0,437.6M489.8,364.4L486.0,380.0M491.1,335.8L507.3,335.8M584.7,397.9L576.1,411.8M550.0,344.0L566.3,342.3M550.0,336.0L565.0,329.3M533.4,342.9L550.0,344.0" stroke="#bdbdbd" stroke-width="0.65" fill="none"/>
<circle cx="559.5" cy="428.7" r="1.2" fill="#f4f4f4" stroke="#a0a0a0" stroke-width="0.6"/>
<circle cx="567.2" cy="339.1" r="1.2" fill="#f4f4f4" stroke="#a0a0a0" stroke-width="0.6"/>
<circle cx="586.5" cy="332.9" r="1.2" fill="#f4f4f4" stroke="#a0a0a0" stroke-width="0.6"/>
<circle cx="585.8" cy="360.6" r="1.2" fill="#f4f4f4" stroke="#a0a0a0" stroke-width="0.6"/>
<circle cx="580.9" cy="349.8" r="1.2" fill="#f4f4f4" stroke="#a0a0a0" stroke-width="0.6"/>
<circle cx="566.6" cy="332.6" r="1.2" fill="#f4f4f4" stroke="#a0a0a0" stroke-width="0.6"/>
<circle cx="572.5" cy="411.8" r="1.2" fill="#f4f4f4" stroke="#a0a0a0" stroke-width="0.6"/>
<circle cx="542.0" cy="420.8" r="1.2" fill="#f4f4f4" stroke="#a0a0a0" stroke-width="0.6"/>
<circle cx="585.5" cy="339.4" r="1.2" fill="#f4f4f4" stroke="#a0a0a0" stroke-width="0.6"/>
<circle cx="542.3" cy="428.0" r="1.2" fill="#f4f4f4" stroke="#a0a0a0" stroke-width="0.6"/>
<circle cx="585.5" cy="346.5" r="1.2" fill="#f4f4f4" stroke="#a0a0a0" stroke-width="0.6"/>
<circle cx="587.0" cy="394.9" r="1.2" fill="#f4f4f4" stroke="#a0a0a0" stroke-width="0.6"/>
<circle cx="585.8" cy="353.7" r="1.2" fill="#f4f4f4" stroke="#a0a0a0" stroke-width="0.6"/>
<circle cx="487.9" cy="367.7" r="1.2" fill="#f4f4f4" stroke="#a0a0a0" stroke-width="0.6"/>
<circle cx="529.4" cy="436.3" r="1.2" fill="#f4f4f4" stroke="#a0a0a0" stroke-width="0.6"/>
<circle cx="554.8" cy="417.1" r="1.2" fill="#f4f4f4" stroke="#a0a0a0" stroke-width="0.6"/>
<circle cx="547.0" cy="432.0" r="1.2" fill="#f4f4f4" stroke="#a0a0a0" stroke-width="0.6"/>
<circle cx="554.8" cy="432.0" r="1.2" fill="#f4f4f4" stroke="#a0a0a0" stroke-width="0.6"/>
<circle cx="550.0" cy="340.0" r="1.2" fill="#f4f4f4" stroke="#a0a0a0" stroke-width="0.6"/>
<circle cx="580.6" cy="334.9" r="1.2" fill="#f4f4f4" stroke="#a0a0a0" stroke-width="0.6"/>
<circle cx="514.5" cy="435.3" r="1.2" fill="#f4f4f4" stroke="#a0a0a0" stroke-width="0.6"/>
<circle cx="495.2" cy="426.4" r="1.2" fill="#f4f4f4" stroke="#a0a0a0" stroke-width="0.6"/>
<circle cx="509.5" cy="429.0" r="1.2" fill="#f4f4f4" stroke="#a0a0a0" stroke-width="0.6"/>
<circle cx="586.5" cy="367.4" r="1.2" fill="#f4f4f4" stroke="#a0a0a0" stroke-width="0.6"/>
<circle cx="503.2" cy="426.4" r="1.2" fill="#f4f4f4" stroke="#a0a0a0" stroke-width="0.6"/>
<circle cx="580.7" cy="426.7" r="1.2" fill="#f4f4f4" stroke="#a0a0a0" stroke-width="0.6"/>
<circle cx="572.8" cy="426.4" r="1.2" fill="#f4f4f4" stroke="#a0a0a0" stroke-width="0.6"/>
<circle cx="546.6" cy="417.1" r="1.2" fill="#f4f4f4" stroke="#a0a0a0" stroke-width="0.6"/>
<circle cx="580.4" cy="411.8" r="1.2" fill="#f4f4f4" stroke="#a0a0a0" stroke-width="0.6"/>
<circle cx="564.5" cy="425.4" r="1.2" fill="#f4f4f4" stroke="#a0a0a0" stroke-width="0.6"/>
<circle cx="587.0" cy="429.4" r="1.2" fill="#f4f4f4" stroke="#a0a0a0" stroke-width="0.6"/>
<circle cx="572.5" cy="334.9" r="1.2" fill="#f4f4f4" stroke="#a0a0a0" stroke-width="0.6"/>
<circle cx="559.5" cy="421.4" r="1.2" fill="#f4f4f4" stroke="#a0a0a0" stroke-width="0.6"/>
<circle cx="485.9" cy="375.5" r="1.2" fill="#f4f4f4" stroke="#a0a0a0" stroke-width="0.6"/>
<circle cx="488.6" cy="429.4" r="1.2" fill="#f4f4f4" stroke="#a0a0a0" stroke-width="0.6"/>
<circle cx="521.4" cy="436.6" r="1.2" fill="#f4f4f4" stroke="#a0a0a0" stroke-width="0.6"/>
<circle cx="488.6" cy="393.9" r="1.2" fill="#f4f4f4" stroke="#a0a0a0" stroke-width="0.6"/>
<circle cx="486.0" cy="385.0" r="1.2" fill="#f4f4f4" stroke="#a0a0a0" stroke-width="0.6"/>
<circle cx="587.2" cy="375.9" r="1.2" fill="#f4f4f4" stroke="#a0a0a0" stroke-width="0.6"/>
<circle cx="581.8" cy="346.1" r="1.2" fill="#f4f4f4" stroke="#a0a0a0" stroke-width="0.6"/>
<circle cx="563.8" cy="414.5" r="1.2" fill="#f4f4f4" stroke="#a0a0a0" stroke-width="0.6"/>
<circle cx="587.6" cy="386.5" r="1.2" fill="#f4f4f4" stroke="#a0a0a0" stroke-width="0.6"/>
<circle cx="538.0" cy="434.6" r="1.2" fill="#f4f4f4" stroke="#a0a0a0" stroke-width="0.6"/>
<circle cx="546.2" cy="420.8" r="1.2" fill="#f4f4f4" stroke="#a0a0a0" stroke-width="0.6"/>
<circle cx="563.8" cy="428.4" r="1.2" fill="#f4f4f4" stroke="#a0a0a0" stroke-width="0.6"/>
<circle cx="582.5" cy="332.0" r="1.2" fill="#f4f4f4" stroke="#a0a0a0" stroke-width="0.6"/>
<circle cx="582.2" cy="353.4" r="1.2" fill="#f4f4f4" stroke="#a0a0a0" stroke-width="0.6"/>
<circle cx="512.5" cy="339.4" r="1.2" fill="#f4f4f4" stroke="#a0a0a0" stroke-width="0.6"/>
<circle cx="533.4" cy="336.4" r="1.2" fill="#f4f4f4" stroke="#a0a0a0" stroke-width="0.6"/>
<circle cx="565.6" cy="335.8" r="1.2" fill="#f4f4f4" stroke="#a0a0a0" stroke-width="0.6"/>
<circle cx="518.9" cy="336.4" r="1.2" fill="#f4f4f4" stroke="#a0a0a0" stroke-width="0.6"/>
<circle cx="526.7" cy="329.9" r="1.2" fill="#f4f4f4" stroke="#a0a0a0" stroke-width="0.6"/>
<circle cx="583.0" cy="430.4" r="1.2" fill="#f4f4f4" stroke="#a0a0a0" stroke-width="0.6"/>
<circle cx="505.5" cy="429.6" r="1.2" fill="#f4f4f4" stroke="#a0a0a0" stroke-width="0.6"/>
<circle cx="491.3" cy="418.8" r="1.2" fill="#f4f4f4" stroke="#a0a0a0" stroke-width="0.6"/>
<circle cx="584.7" cy="418.8" r="1.2" fill="#f4f4f4" stroke="#a0a0a0" stroke-width="0.6"/>
<circle cx="491.3" cy="404.9" r="1.2" fill="#f4f4f4" stroke="#a0a0a0" stroke-width="0.6"/>
<circle cx="584.7" cy="404.9" r="1.2" fill="#f4f4f4" stroke="#a0a0a0" stroke-width="0.6"/>
<circle cx="513.6" cy="332.9" r="1.2" fill="#f4f4f4" stroke="#a0a0a0" stroke-width="0.6"/>
<circle cx="491.4" cy="343.0" r="1.2" fill="#f4f4f4" stroke="#a0a0a0" stroke-width="0.6"/>
<circle cx="490.8" cy="357.2" r="1.2" fill="#f4f4f4" stroke="#a0a0a0" stroke-width="0.6"/>
<circle cx="525.6" cy="342.9" r="1.2" fill="#f4f4f4" stroke="#a0a0a0" stroke-width="0.6"/>
<circle cx="525.0" cy="438.0" r="1.2" fill="#f4f4f4" stroke="#a0a0a0" stroke-width="0.6"/>
<circle cx="487.9" cy="372.2" r="1.2" fill="#f4f4f4" stroke="#a0a0a0" stroke-width="0.6"/>
<circle cx="499.2" cy="335.8" r="1.2" fill="#f4f4f4" stroke="#a0a0a0" stroke-width="0.6"/>
<circle cx="580.4" cy="404.9" r="1.2" fill="#f4f4f4" stroke="#a0a0a0" stroke-width="0.6"/>
<circle cx="558.1" cy="343.1" r="1.2" fill="#f4f4f4" stroke="#a0a0a0" stroke-width="0.6"/>
<circle cx="557.5" cy="332.6" r="1.2" fill="#f4f4f4" stroke="#a0a0a0" stroke-width="0.6"/>
<circle cx="541.7" cy="343.4" r="1.2" fill="#f4f4f4" stroke="#a0a0a0" stroke-width="0.6"/>
<circle cx="491.1" cy="335.8" r="2.1" fill="#f2f2f2" stroke="#858585" stroke-width="0.8"/>
<circle cx="507.3" cy="335.8" r="2.1" fill="#f2f2f2" stroke="#858585" stroke-width="0.8"/>
<circle cx="491.7" cy="350.1" r="2.1" fill="#f2f2f2" stroke="#858585" stroke-width="0.8"/>
<circle cx="517.8" cy="342.9" r="2.1" fill="#f2f2f2" stroke="#858585" stroke-width="0.8"/>
<circle cx="533.4" cy="342.9" r="2.1" fill="#f2f2f2" stroke="#858585" stroke-width="0.8"/>
<circle cx="533.4" cy="329.9" r="2.1" fill="#f2f2f2" stroke="#858585" stroke-width="0.8"/>
<circle cx="550.0" cy="336.0" r="2.1" fill="#f2f2f2" stroke="#858585" stroke-width="0.8"/>
<circle cx="550.0" cy="344.0" r="2.1" fill="#f2f2f2" stroke="#858585" stroke-width="0.8"/>
<circle cx="568.2" cy="335.8" r="2.1" fill="#f2f2f2" stroke="#858585" stroke-width="0.8"/>
<circle cx="584.5" cy="335.8" r="2.1" fill="#f2f2f2" stroke="#858585" stroke-width="0.8"/>
<circle cx="576.7" cy="334.0" r="2.1" fill="#f2f2f2" stroke="#858585" stroke-width="0.8"/>
<circle cx="566.3" cy="342.3" r="2.1" fill="#f2f2f2" stroke="#858585" stroke-width="0.8"/>
<circle cx="586.4" cy="342.9" r="2.1" fill="#f2f2f2" stroke="#858585" stroke-width="0.8"/>
<circle cx="584.5" cy="350.1" r="2.1" fill="#f2f2f2" stroke="#858585" stroke-width="0.8"/>
<circle cx="577.3" cy="349.4" r="2.1" fill="#f2f2f2" stroke="#858585" stroke-width="0.8"/>
<circle cx="588.4" cy="330.0" r="2.1" fill="#f2f2f2" stroke="#858585" stroke-width="0.8"/>
<circle cx="565.0" cy="329.3" r="2.1" fill="#f2f2f2" stroke="#858585" stroke-width="0.8"/>
<circle cx="520.0" cy="330.0" r="2.1" fill="#f2f2f2" stroke="#858585" stroke-width="0.8"/>
<circle cx="489.8" cy="364.4" r="2.1" fill="#f2f2f2" stroke="#858585" stroke-width="0.8"/>
<circle cx="485.9" cy="371.0" r="2.1" fill="#f2f2f2" stroke="#858585" stroke-width="0.8"/>
<circle cx="486.0" cy="380.0" r="2.1" fill="#f2f2f2" stroke="#858585" stroke-width="0.8"/>
<circle cx="486.0" cy="390.0" r="2.1" fill="#f2f2f2" stroke="#858585" stroke-width="0.8"/>
<circle cx="491.3" cy="397.9" r="2.1" fill="#f2f2f2" stroke="#858585" stroke-width="0.8"/>
<circle cx="491.3" cy="411.8" r="2.1" fill="#f2f2f2" stroke="#858585" stroke-width="0.8"/>
<circle cx="491.3" cy="425.7" r="2.1" fill="#f2f2f2" stroke="#858585" stroke-width="0.8"/>
<circle cx="486.0" cy="433.0" r="2.1" fill="#f2f2f2" stroke="#858585" stroke-width="0.8"/>
<circle cx="499.2" cy="427.0" r="2.1" fill="#f2f2f2" stroke="#858585" stroke-width="0.8"/>
<circle cx="507.2" cy="425.7" r="2.1" fill="#f2f2f2" stroke="#858585" stroke-width="0.8"/>
<circle cx="511.8" cy="432.3" r="2.1" fill="#f2f2f2" stroke="#858585" stroke-width="0.8"/>
<circle cx="517.1" cy="438.3" r="2.1" fill="#f2f2f2" stroke="#858585" stroke-width="0.8"/>
<circle cx="525.7" cy="435.0" r="2.1" fill="#f2f2f2" stroke="#858585" stroke-width="0.8"/>
<circle cx="533.0" cy="437.6" r="2.1" fill="#f2f2f2" stroke="#858585" stroke-width="0.8"/>
<circle cx="543.0" cy="431.7" r="2.1" fill="#f2f2f2" stroke="#858585" stroke-width="0.8"/>
<circle cx="550.9" cy="432.3" r="2.1" fill="#f2f2f2" stroke="#858585" stroke-width="0.8"/>
<circle cx="558.8" cy="431.7" r="2.1" fill="#f2f2f2" stroke="#858585" stroke-width="0.8"/>
<circle cx="560.2" cy="425.7" r="2.1" fill="#f2f2f2" stroke="#858585" stroke-width="0.8"/>
<circle cx="541.6" cy="424.4" r="2.1" fill="#f2f2f2" stroke="#858585" stroke-width="0.8"/>
<circle cx="568.8" cy="425.0" r="2.1" fill="#f2f2f2" stroke="#858585" stroke-width="0.8"/>
<circle cx="576.7" cy="427.7" r="2.1" fill="#f2f2f2" stroke="#858585" stroke-width="0.8"/>
<circle cx="584.7" cy="425.7" r="2.1" fill="#f2f2f2" stroke="#858585" stroke-width="0.8"/>
<circle cx="589.3" cy="433.0" r="2.1" fill="#f2f2f2" stroke="#858585" stroke-width="0.8"/>
<circle cx="542.3" cy="417.1" r="2.1" fill="#f2f2f2" stroke="#858585" stroke-width="0.8"/>
<circle cx="550.9" cy="417.1" r="2.1" fill="#f2f2f2" stroke="#858585" stroke-width="0.8"/>
<circle cx="558.8" cy="417.1" r="2.1" fill="#f2f2f2" stroke="#858585" stroke-width="0.8"/>
<circle cx="587.1" cy="357.3" r="2.1" fill="#f2f2f2" stroke="#858585" stroke-width="0.8"/>
<circle cx="584.5" cy="363.8" r="2.1" fill="#f2f2f2" stroke="#858585" stroke-width="0.8"/>
<circle cx="588.4" cy="370.9" r="2.1" fill="#f2f2f2" stroke="#858585" stroke-width="0.8"/>
<circle cx="586.0" cy="381.0" r="2.1" fill="#f2f2f2" stroke="#858585" stroke-width="0.8"/>
<circle cx="589.3" cy="392.0" r="2.1" fill="#f2f2f2" stroke="#858585" stroke-width="0.8"/>
<circle cx="584.7" cy="397.9" r="2.1" fill="#f2f2f2" stroke="#858585" stroke-width="0.8"/>
<circle cx="568.8" cy="411.8" r="2.1" fill="#f2f2f2" stroke="#858585" stroke-width="0.8"/>
<circle cx="584.7" cy="411.8" r="2.1" fill="#f2f2f2" stroke="#858585" stroke-width="0.8"/>
<circle cx="576.1" cy="411.8" r="2.1" fill="#f2f2f2" stroke="#858585" stroke-width="0.8"/>
<path d="M507.3,350.1L506.7,364.4M506.7,364.4L516.5,376.8M516.5,376.8L533.4,376.8M516.5,376.8L517.1,391.3M533.4,376.8L542.8,370.9M533.4,376.8L533.0,391.3M542.8,356.6L559.1,356.6M542.8,356.6L542.8,370.9M559.1,356.6L558.4,370.3M542.8,370.9L558.4,370.3M559.1,356.6L568.2,350.1M568.2,350.1L568.2,364.4M558.4,370.3L568.2,364.4M542.8,370.9L542.8,384.3M558.4,370.3L559.3,384.3M542.8,384.3L559.3,384.3M559.3,384.3L568.8,397.9M517.1,391.3L533.0,391.3M517.1,391.3L517.1,405.2M517.1,391.3L507.2,397.9M507.2,397.9L507.2,411.8M517.1,405.2L533.0,405.2M517.1,405.2L507.2,411.8M533.0,391.3L533.0,405.2M507.3,350.1L491.7,350.1M506.7,364.4L489.8,364.4M568.2,364.4L581.0,365.5M568.8,397.9L582.0,394.5M568.8,397.9L568.8,411.8M507.2,397.9L491.3,397.9M533.0,405.2L541.0,416.0M568.2,350.1L566.0,343.0M542.8,356.6L541.0,349.0M507.3,350.1L507.3,337.5" stroke="#e02828" stroke-width="0.80" fill="none"/>
<path d="M507.3,350.1L507.1,354.4M506.7,364.4L509.6,368.1M516.5,376.8L521.6,376.8M516.5,376.8L516.7,381.2M533.4,376.8L536.2,375.0M533.4,376.8L533.3,381.2M542.8,356.6L547.7,356.6M542.8,356.6L542.8,360.9M559.1,356.6L558.9,360.7M542.8,370.9L547.5,370.7M559.1,356.6L561.8,354.7M568.2,350.1L568.2,354.4M558.4,370.3L561.3,368.5M542.8,370.9L542.8,374.9M558.4,370.3L558.7,374.5M542.8,384.3L547.8,384.3M559.3,384.3L562.1,388.4M517.1,391.3L521.9,391.3M517.1,391.3L517.1,395.5M517.1,391.3L514.1,393.3M507.2,397.9L507.2,402.1M517.1,405.2L521.9,405.2M517.1,405.2L514.1,407.2M533.0,391.3L533.0,395.5M507.3,350.1L502.6,350.1M506.7,364.4L501.6,364.4M568.2,364.4L572.0,364.7M568.8,397.9L572.8,396.9M568.8,397.9L568.8,402.1M507.2,397.9L502.4,397.9M533.0,405.2L535.4,408.4M568.2,350.1L567.5,348.0M542.8,356.6L542.3,354.3M507.3,350.1L507.3,346.3" stroke="#e4dc30" stroke-width="0.80" fill="none"/>
<ellipse cx="507.1" cy="355.2" rx="1.97" ry="1.23" transform="rotate(92 507.1 355.2)" fill="#e01414" stroke="#a00000" stroke-width="0.4"/>
<ellipse cx="506.9" cy="359.3" rx="1.97" ry="1.23" transform="rotate(92 506.9 359.3)" fill="#e01414" stroke="#a00000" stroke-width="0.4"/>
<ellipse cx="510.2" cy="368.9" rx="1.97" ry="1.23" transform="rotate(52 510.2 368.9)" fill="#e01414" stroke="#a00000" stroke-width="0.4"/>
<ellipse cx="513.0" cy="372.3" rx="1.97" ry="1.23" transform="rotate(52 513.0 372.3)" fill="#e01414" stroke="#a00000" stroke-width="0.4"/>
<ellipse cx="522.6" cy="376.8" rx="1.97" ry="1.23" transform="rotate(0 522.6 376.8)" fill="#e01414" stroke="#a00000" stroke-width="0.4"/>
<ellipse cx="527.3" cy="376.8" rx="1.97" ry="1.23" transform="rotate(0 527.3 376.8)" fill="#e01414" stroke="#a00000" stroke-width="0.4"/>
<ellipse cx="516.7" cy="382.0" rx="1.97" ry="1.23" transform="rotate(88 516.7 382.0)" fill="#e01414" stroke="#a00000" stroke-width="0.4"/>
<ellipse cx="516.9" cy="386.1" rx="1.97" ry="1.23" transform="rotate(88 516.9 386.1)" fill="#e01414" stroke="#a00000" stroke-width="0.4"/>
<ellipse cx="536.8" cy="374.7" rx="1.97" ry="1.23" transform="rotate(-32 536.8 374.7)" fill="#e01414" stroke="#a00000" stroke-width="0.4"/>
<ellipse cx="539.4" cy="373.0" rx="1.97" ry="1.23" transform="rotate(-32 539.4 373.0)" fill="#e01414" stroke="#a00000" stroke-width="0.4"/>
<ellipse cx="533.3" cy="382.0" rx="1.97" ry="1.23" transform="rotate(92 533.3 382.0)" fill="#e01414" stroke="#a00000" stroke-width="0.4"/>
<ellipse cx="533.1" cy="386.1" rx="1.97" ry="1.23" transform="rotate(92 533.1 386.1)" fill="#e01414" stroke="#a00000" stroke-width="0.4"/>
<ellipse cx="548.7" cy="356.6" rx="1.97" ry="1.23" transform="rotate(0 548.7 356.6)" fill="#e01414" stroke="#a00000" stroke-width="0.4"/>
<ellipse cx="553.2" cy="356.6" rx="1.97" ry="1.23" transform="rotate(0 553.2 356.6)" fill="#e01414" stroke="#a00000" stroke-width="0.4"/>
<ellipse cx="542.8" cy="361.7" rx="1.97" ry="1.23" transform="rotate(90 542.8 361.7)" fill="#e01414" stroke="#a00000" stroke-width="0.4"/>
<ellipse cx="542.8" cy="365.8" rx="1.97" ry="1.23" transform="rotate(90 542.8 365.8)" fill="#e01414" stroke="#a00000" stroke-width="0.4"/>
<ellipse cx="558.8" cy="361.5" rx="1.97" ry="1.23" transform="rotate(93 558.8 361.5)" fill="#e01414" stroke="#a00000" stroke-width="0.4"/>
<ellipse cx="558.7" cy="365.4" rx="1.97" ry="1.23" transform="rotate(93 558.7 365.4)" fill="#e01414" stroke="#a00000" stroke-width="0.4"/>
<ellipse cx="548.4" cy="370.7" rx="1.97" ry="1.23" transform="rotate(-2 548.4 370.7)" fill="#e01414" stroke="#a00000" stroke-width="0.4"/>
<ellipse cx="552.8" cy="370.5" rx="1.97" ry="1.23" transform="rotate(-2 552.8 370.5)" fill="#e01414" stroke="#a00000" stroke-width="0.4"/>
<ellipse cx="562.4" cy="354.3" rx="1.97" ry="1.23" transform="rotate(-36 562.4 354.3)" fill="#e01414" stroke="#a00000" stroke-width="0.4"/>
<ellipse cx="564.9" cy="352.4" rx="1.97" ry="1.23" transform="rotate(-36 564.9 352.4)" fill="#e01414" stroke="#a00000" stroke-width="0.4"/>
<ellipse cx="568.2" cy="355.2" rx="1.97" ry="1.23" transform="rotate(90 568.2 355.2)" fill="#e01414" stroke="#a00000" stroke-width="0.4"/>
<ellipse cx="568.2" cy="359.3" rx="1.97" ry="1.23" transform="rotate(90 568.2 359.3)" fill="#e01414" stroke="#a00000" stroke-width="0.4"/>
<ellipse cx="561.9" cy="368.2" rx="1.97" ry="1.23" transform="rotate(-31 561.9 368.2)" fill="#e01414" stroke="#a00000" stroke-width="0.4"/>
<ellipse cx="564.7" cy="366.5" rx="1.97" ry="1.23" transform="rotate(-31 564.7 366.5)" fill="#e01414" stroke="#a00000" stroke-width="0.4"/>
<ellipse cx="542.8" cy="375.7" rx="1.97" ry="1.23" transform="rotate(90 542.8 375.7)" fill="#e01414" stroke="#a00000" stroke-width="0.4"/>
<ellipse cx="542.8" cy="379.5" rx="1.97" ry="1.23" transform="rotate(90 542.8 379.5)" fill="#e01414" stroke="#a00000" stroke-width="0.4"/>
<ellipse cx="558.7" cy="375.3" rx="1.97" ry="1.23" transform="rotate(86 558.7 375.3)" fill="#e01414" stroke="#a00000" stroke-width="0.4"/>
<ellipse cx="559.0" cy="379.3" rx="1.97" ry="1.23" transform="rotate(86 559.0 379.3)" fill="#e01414" stroke="#a00000" stroke-width="0.4"/>
<ellipse cx="548.7" cy="384.3" rx="1.97" ry="1.23" transform="rotate(0 548.7 384.3)" fill="#e01414" stroke="#a00000" stroke-width="0.4"/>
<ellipse cx="553.4" cy="384.3" rx="1.97" ry="1.23" transform="rotate(0 553.4 384.3)" fill="#e01414" stroke="#a00000" stroke-width="0.4"/>
<ellipse cx="562.7" cy="389.2" rx="1.97" ry="1.23" transform="rotate(55 562.7 389.2)" fill="#e01414" stroke="#a00000" stroke-width="0.4"/>
<ellipse cx="565.4" cy="393.0" rx="1.97" ry="1.23" transform="rotate(55 565.4 393.0)" fill="#e01414" stroke="#a00000" stroke-width="0.4"/>
<ellipse cx="522.8" cy="391.3" rx="1.97" ry="1.23" transform="rotate(0 522.8 391.3)" fill="#e01414" stroke="#a00000" stroke-width="0.4"/>
<ellipse cx="527.3" cy="391.3" rx="1.97" ry="1.23" transform="rotate(0 527.3 391.3)" fill="#e01414" stroke="#a00000" stroke-width="0.4"/>
<ellipse cx="517.1" cy="396.3" rx="1.97" ry="1.23" transform="rotate(90 517.1 396.3)" fill="#e01414" stroke="#a00000" stroke-width="0.4"/>
<ellipse cx="517.1" cy="400.2" rx="1.97" ry="1.23" transform="rotate(90 517.1 400.2)" fill="#e01414" stroke="#a00000" stroke-width="0.4"/>
<ellipse cx="513.5" cy="393.7" rx="1.97" ry="1.23" transform="rotate(146 513.5 393.7)" fill="#e01414" stroke="#a00000" stroke-width="0.4"/>
<ellipse cx="510.8" cy="395.5" rx="1.97" ry="1.23" transform="rotate(146 510.8 395.5)" fill="#e01414" stroke="#a00000" stroke-width="0.4"/>
<ellipse cx="507.2" cy="402.9" rx="1.97" ry="1.23" transform="rotate(90 507.2 402.9)" fill="#e01414" stroke="#a00000" stroke-width="0.4"/>
<ellipse cx="507.2" cy="406.8" rx="1.97" ry="1.23" transform="rotate(90 507.2 406.8)" fill="#e01414" stroke="#a00000" stroke-width="0.4"/>
<ellipse cx="522.8" cy="405.2" rx="1.97" ry="1.23" transform="rotate(0 522.8 405.2)" fill="#e01414" stroke="#a00000" stroke-width="0.4"/>
<ellipse cx="527.3" cy="405.2" rx="1.97" ry="1.23" transform="rotate(0 527.3 405.2)" fill="#e01414" stroke="#a00000" stroke-width="0.4"/>
<ellipse cx="513.5" cy="407.6" rx="1.97" ry="1.23" transform="rotate(146 513.5 407.6)" fill="#e01414" stroke="#a00000" stroke-width="0.4"/>
<ellipse cx="510.8" cy="409.4" rx="1.97" ry="1.23" transform="rotate(146 510.8 409.4)" fill="#e01414" stroke="#a00000" stroke-width="0.4"/>
<ellipse cx="533.0" cy="396.3" rx="1.97" ry="1.23" transform="rotate(90 533.0 396.3)" fill="#e01414" stroke="#a00000" stroke-width="0.4"/>
<ellipse cx="533.0" cy="400.2" rx="1.97" ry="1.23" transform="rotate(90 533.0 400.2)" fill="#e01414" stroke="#a00000" stroke-width="0.4"/>
<ellipse cx="501.7" cy="350.1" rx="1.97" ry="1.23" transform="rotate(180 501.7 350.1)" fill="#e01414" stroke="#a00000" stroke-width="0.4"/>
<ellipse cx="497.3" cy="350.1" rx="1.97" ry="1.23" transform="rotate(180 497.3 350.1)" fill="#e01414" stroke="#a00000" stroke-width="0.4"/>
<ellipse cx="500.6" cy="364.4" rx="1.97" ry="1.23" transform="rotate(180 500.6 364.4)" fill="#e01414" stroke="#a00000" stroke-width="0.4"/>
<ellipse cx="495.9" cy="364.4" rx="1.97" ry="1.23" transform="rotate(180 495.9 364.4)" fill="#e01414" stroke="#a00000" stroke-width="0.4"/>
<ellipse cx="572.8" cy="364.8" rx="1.97" ry="1.23" transform="rotate(5 572.8 364.8)" fill="#e01414" stroke="#a00000" stroke-width="0.4"/>
<ellipse cx="576.4" cy="365.1" rx="1.97" ry="1.23" transform="rotate(5 576.4 365.1)" fill="#e01414" stroke="#a00000" stroke-width="0.4"/>
<ellipse cx="573.6" cy="396.7" rx="1.97" ry="1.23" transform="rotate(-14 573.6 396.7)" fill="#e01414" stroke="#a00000" stroke-width="0.4"/>
<ellipse cx="577.2" cy="395.7" rx="1.97" ry="1.23" transform="rotate(-14 577.2 395.7)" fill="#e01414" stroke="#a00000" stroke-width="0.4"/>
<ellipse cx="568.8" cy="402.9" rx="1.97" ry="1.23" transform="rotate(90 568.8 402.9)" fill="#e01414" stroke="#a00000" stroke-width="0.4"/>
<ellipse cx="568.8" cy="406.8" rx="1.97" ry="1.23" transform="rotate(90 568.8 406.8)" fill="#e01414" stroke="#a00000" stroke-width="0.4"/>
<ellipse cx="501.5" cy="397.9" rx="1.97" ry="1.23" transform="rotate(180 501.5 397.9)" fill="#e01414" stroke="#a00000" stroke-width="0.4"/>
<ellipse cx="497.0" cy="397.9" rx="1.97" ry="1.23" transform="rotate(180 497.0 397.9)" fill="#e01414" stroke="#a00000" stroke-width="0.4"/>
<ellipse cx="535.9" cy="409.1" rx="1.97" ry="1.23" transform="rotate(53 535.9 409.1)" fill="#e01414" stroke="#a00000" stroke-width="0.4"/>
<ellipse cx="538.1" cy="412.1" rx="1.97" ry="1.23" transform="rotate(53 538.1 412.1)" fill="#e01414" stroke="#a00000" stroke-width="0.4"/>
<ellipse cx="567.4" cy="347.5" rx="1.97" ry="1.23" transform="rotate(-107 567.4 347.5)" fill="#e01414" stroke="#a00000" stroke-width="0.4"/>
<ellipse cx="566.8" cy="345.6" rx="1.97" ry="1.23" transform="rotate(-107 566.8 345.6)" fill="#e01414" stroke="#a00000" stroke-width="0.4"/>
<ellipse cx="542.2" cy="353.9" rx="1.97" ry="1.23" transform="rotate(-103 542.2 353.9)" fill="#e01414" stroke="#a00000" stroke-width="0.4"/>
<ellipse cx="541.6" cy="351.7" rx="1.97" ry="1.23" transform="rotate(-103 541.6 351.7)" fill="#e01414" stroke="#a00000" stroke-width="0.4"/>
<ellipse cx="507.3" cy="345.6" rx="1.97" ry="1.23" transform="rotate(-90 507.3 345.6)" fill="#e01414" stroke="#a00000" stroke-width="0.4"/>
<ellipse cx="507.3" cy="342.0" rx="1.97" ry="1.23" transform="rotate(-90 507.3 342.0)" fill="#e01414" stroke="#a00000" stroke-width="0.4"/>
<circle cx="507.3" cy="350.1" r="2.30" fill="#d89020" stroke="#2020a0" stroke-width="0.45"/>
<circle cx="506.7" cy="364.4" r="2.40" fill="#1818e8" stroke="#000070" stroke-width="0.45"/>
<circle cx="516.5" cy="376.8" r="2.40" fill="#1818e8" stroke="#000070" stroke-width="0.45"/>
<circle cx="533.4" cy="376.8" r="2.25" fill="#eaea1e" stroke="#8a8a10" stroke-width="0.45"/>
<circle cx="542.8" cy="356.6" r="2.40" fill="#1818e8" stroke="#000070" stroke-width="0.45"/>
<circle cx="559.1" cy="356.6" r="2.30" fill="#d89020" stroke="#2020a0" stroke-width="0.45"/>
<circle cx="542.8" cy="370.9" r="2.30" fill="#d89020" stroke="#2020a0" stroke-width="0.45"/>
<circle cx="558.4" cy="370.3" r="2.40" fill="#1818e8" stroke="#000070" stroke-width="0.45"/>
<circle cx="568.2" cy="350.1" r="2.40" fill="#1818e8" stroke="#000070" stroke-width="0.45"/>
<circle cx="568.2" cy="364.4" r="2.30" fill="#d89020" stroke="#2020a0" stroke-width="0.45"/>
<circle cx="542.8" cy="384.3" r="2.40" fill="#1818e8" stroke="#000070" stroke-width="0.45"/>
<circle cx="559.3" cy="384.3" r="2.30" fill="#d89020" stroke="#2020a0" stroke-width="0.45"/>
<circle cx="517.1" cy="391.3" r="2.30" fill="#d89020" stroke="#2020a0" stroke-width="0.45"/>
<circle cx="533.0" cy="391.3" r="2.40" fill="#1818e8" stroke="#000070" stroke-width="0.45"/>
<circle cx="507.2" cy="397.9" r="2.40" fill="#1818e8" stroke="#000070" stroke-width="0.45"/>
<circle cx="517.1" cy="405.2" r="2.40" fill="#1818e8" stroke="#000070" stroke-width="0.45"/>
<circle cx="533.0" cy="405.2" r="2.30" fill="#d89020" stroke="#2020a0" stroke-width="0.45"/>
<circle cx="568.8" cy="397.9" r="2.30" fill="#d89020" stroke="#2020a0" stroke-width="0.45"/>
<circle cx="507.2" cy="411.8" r="2.20" fill="#eeeef4" stroke="#3030a0" stroke-width="0.45"/>
</g>
<rect x="499.60" y="352.90" width="79.00" height="66.20" fill="none" stroke="#000" stroke-width="1.4"/>
<rect x="481.60" y="327.10" width="110.50" height="114.40" fill="none" stroke="#0000ff" stroke-width="2.6"/>
<text x="534.7" y="321" text-anchor="middle" font-size="11" fill="#0000ff" stroke="#0000ff">H-SAPO-34</text>
</g>
</svg>
</body></html>
